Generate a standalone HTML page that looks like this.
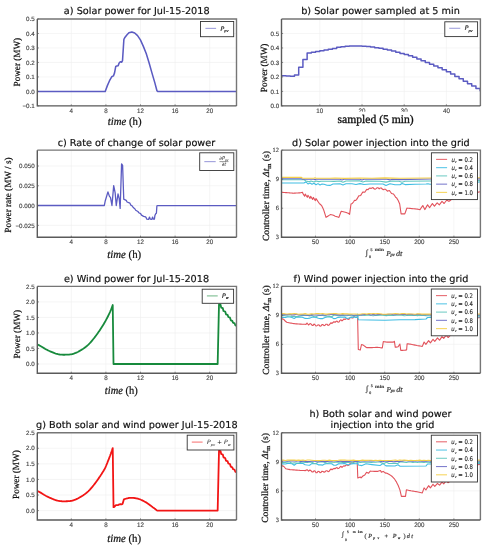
<!DOCTYPE html>
<html><head><meta charset="utf-8"><title>Solar and wind power figure</title><style>html,body{margin:0;padding:0;background:#fff;}svg{display:block;} text{text-rendering:geometricPrecision;}</style></head><body>
<svg width="487" height="550" viewBox="0 0 487 550">
<rect width="487" height="550" fill="#ffffff"/>
<line x1="71.3" y1="19" x2="71.3" y2="105.9" stroke="#eeeeee" stroke-width="0.6"/>
<line x1="105.9" y1="19" x2="105.9" y2="105.9" stroke="#eeeeee" stroke-width="0.6"/>
<line x1="140.5" y1="19" x2="140.5" y2="105.9" stroke="#eeeeee" stroke-width="0.6"/>
<line x1="175.1" y1="19" x2="175.1" y2="105.9" stroke="#eeeeee" stroke-width="0.6"/>
<line x1="209.7" y1="19" x2="209.7" y2="105.9" stroke="#eeeeee" stroke-width="0.6"/>
<line x1="37.3" y1="105.9" x2="236.5" y2="105.9" stroke="#eeeeee" stroke-width="0.6"/>
<line x1="37.3" y1="91.42" x2="236.5" y2="91.42" stroke="#eeeeee" stroke-width="0.6"/>
<line x1="37.3" y1="76.93" x2="236.5" y2="76.93" stroke="#eeeeee" stroke-width="0.6"/>
<line x1="37.3" y1="62.45" x2="236.5" y2="62.45" stroke="#eeeeee" stroke-width="0.6"/>
<line x1="37.3" y1="47.97" x2="236.5" y2="47.97" stroke="#eeeeee" stroke-width="0.6"/>
<line x1="37.3" y1="33.48" x2="236.5" y2="33.48" stroke="#eeeeee" stroke-width="0.6"/>
<line x1="37.3" y1="19" x2="236.5" y2="19" stroke="#eeeeee" stroke-width="0.6"/>
<line x1="319.8" y1="19" x2="319.8" y2="105.9" stroke="#eeeeee" stroke-width="0.6"/>
<line x1="362" y1="19" x2="362" y2="105.9" stroke="#eeeeee" stroke-width="0.6"/>
<line x1="404.2" y1="19" x2="404.2" y2="105.9" stroke="#eeeeee" stroke-width="0.6"/>
<line x1="446.4" y1="19" x2="446.4" y2="105.9" stroke="#eeeeee" stroke-width="0.6"/>
<line x1="281.5" y1="105.9" x2="480.4" y2="105.9" stroke="#eeeeee" stroke-width="0.6"/>
<line x1="281.5" y1="91.42" x2="480.4" y2="91.42" stroke="#eeeeee" stroke-width="0.6"/>
<line x1="281.5" y1="76.93" x2="480.4" y2="76.93" stroke="#eeeeee" stroke-width="0.6"/>
<line x1="281.5" y1="62.45" x2="480.4" y2="62.45" stroke="#eeeeee" stroke-width="0.6"/>
<line x1="281.5" y1="47.97" x2="480.4" y2="47.97" stroke="#eeeeee" stroke-width="0.6"/>
<line x1="281.5" y1="33.48" x2="480.4" y2="33.48" stroke="#eeeeee" stroke-width="0.6"/>
<line x1="71.3" y1="150.15" x2="71.3" y2="237.25" stroke="#eeeeee" stroke-width="0.6"/>
<line x1="105.9" y1="150.15" x2="105.9" y2="237.25" stroke="#eeeeee" stroke-width="0.6"/>
<line x1="140.5" y1="150.15" x2="140.5" y2="237.25" stroke="#eeeeee" stroke-width="0.6"/>
<line x1="175.1" y1="150.15" x2="175.1" y2="237.25" stroke="#eeeeee" stroke-width="0.6"/>
<line x1="209.7" y1="150.15" x2="209.7" y2="237.25" stroke="#eeeeee" stroke-width="0.6"/>
<line x1="37.3" y1="225.37" x2="236.5" y2="225.37" stroke="#eeeeee" stroke-width="0.6"/>
<line x1="37.3" y1="205.58" x2="236.5" y2="205.58" stroke="#eeeeee" stroke-width="0.6"/>
<line x1="37.3" y1="185.78" x2="236.5" y2="185.78" stroke="#eeeeee" stroke-width="0.6"/>
<line x1="37.3" y1="165.99" x2="236.5" y2="165.99" stroke="#eeeeee" stroke-width="0.6"/>
<line x1="315.5" y1="150.15" x2="315.5" y2="237.25" stroke="#eeeeee" stroke-width="0.6"/>
<line x1="350.1" y1="150.15" x2="350.1" y2="237.25" stroke="#eeeeee" stroke-width="0.6"/>
<line x1="384.7" y1="150.15" x2="384.7" y2="237.25" stroke="#eeeeee" stroke-width="0.6"/>
<line x1="419.3" y1="150.15" x2="419.3" y2="237.25" stroke="#eeeeee" stroke-width="0.6"/>
<line x1="453.9" y1="150.15" x2="453.9" y2="237.25" stroke="#eeeeee" stroke-width="0.6"/>
<line x1="281.5" y1="237.25" x2="480.4" y2="237.25" stroke="#eeeeee" stroke-width="0.6"/>
<line x1="281.5" y1="208.22" x2="480.4" y2="208.22" stroke="#eeeeee" stroke-width="0.6"/>
<line x1="281.5" y1="179.18" x2="480.4" y2="179.18" stroke="#eeeeee" stroke-width="0.6"/>
<line x1="281.5" y1="150.15" x2="480.4" y2="150.15" stroke="#eeeeee" stroke-width="0.6"/>
<line x1="71.3" y1="286.4" x2="71.3" y2="373.3" stroke="#eeeeee" stroke-width="0.6"/>
<line x1="105.9" y1="286.4" x2="105.9" y2="373.3" stroke="#eeeeee" stroke-width="0.6"/>
<line x1="140.5" y1="286.4" x2="140.5" y2="373.3" stroke="#eeeeee" stroke-width="0.6"/>
<line x1="175.1" y1="286.4" x2="175.1" y2="373.3" stroke="#eeeeee" stroke-width="0.6"/>
<line x1="209.7" y1="286.4" x2="209.7" y2="373.3" stroke="#eeeeee" stroke-width="0.6"/>
<line x1="37.3" y1="363.99" x2="236.5" y2="363.99" stroke="#eeeeee" stroke-width="0.6"/>
<line x1="37.3" y1="348.47" x2="236.5" y2="348.47" stroke="#eeeeee" stroke-width="0.6"/>
<line x1="37.3" y1="332.95" x2="236.5" y2="332.95" stroke="#eeeeee" stroke-width="0.6"/>
<line x1="37.3" y1="317.44" x2="236.5" y2="317.44" stroke="#eeeeee" stroke-width="0.6"/>
<line x1="37.3" y1="301.92" x2="236.5" y2="301.92" stroke="#eeeeee" stroke-width="0.6"/>
<line x1="37.3" y1="286.4" x2="236.5" y2="286.4" stroke="#eeeeee" stroke-width="0.6"/>
<line x1="315.5" y1="286.4" x2="315.5" y2="373.3" stroke="#eeeeee" stroke-width="0.6"/>
<line x1="350.1" y1="286.4" x2="350.1" y2="373.3" stroke="#eeeeee" stroke-width="0.6"/>
<line x1="384.7" y1="286.4" x2="384.7" y2="373.3" stroke="#eeeeee" stroke-width="0.6"/>
<line x1="419.3" y1="286.4" x2="419.3" y2="373.3" stroke="#eeeeee" stroke-width="0.6"/>
<line x1="453.9" y1="286.4" x2="453.9" y2="373.3" stroke="#eeeeee" stroke-width="0.6"/>
<line x1="281.5" y1="373.3" x2="480.4" y2="373.3" stroke="#eeeeee" stroke-width="0.6"/>
<line x1="281.5" y1="344.33" x2="480.4" y2="344.33" stroke="#eeeeee" stroke-width="0.6"/>
<line x1="281.5" y1="315.37" x2="480.4" y2="315.37" stroke="#eeeeee" stroke-width="0.6"/>
<line x1="281.5" y1="286.4" x2="480.4" y2="286.4" stroke="#eeeeee" stroke-width="0.6"/>
<line x1="71.3" y1="432.7" x2="71.3" y2="519.95" stroke="#eeeeee" stroke-width="0.6"/>
<line x1="105.9" y1="432.7" x2="105.9" y2="519.95" stroke="#eeeeee" stroke-width="0.6"/>
<line x1="140.5" y1="432.7" x2="140.5" y2="519.95" stroke="#eeeeee" stroke-width="0.6"/>
<line x1="175.1" y1="432.7" x2="175.1" y2="519.95" stroke="#eeeeee" stroke-width="0.6"/>
<line x1="209.7" y1="432.7" x2="209.7" y2="519.95" stroke="#eeeeee" stroke-width="0.6"/>
<line x1="37.3" y1="510.6" x2="236.5" y2="510.6" stroke="#eeeeee" stroke-width="0.6"/>
<line x1="37.3" y1="495.02" x2="236.5" y2="495.02" stroke="#eeeeee" stroke-width="0.6"/>
<line x1="37.3" y1="479.44" x2="236.5" y2="479.44" stroke="#eeeeee" stroke-width="0.6"/>
<line x1="37.3" y1="463.86" x2="236.5" y2="463.86" stroke="#eeeeee" stroke-width="0.6"/>
<line x1="37.3" y1="448.28" x2="236.5" y2="448.28" stroke="#eeeeee" stroke-width="0.6"/>
<line x1="37.3" y1="432.7" x2="236.5" y2="432.7" stroke="#eeeeee" stroke-width="0.6"/>
<line x1="315.5" y1="432.7" x2="315.5" y2="519.95" stroke="#eeeeee" stroke-width="0.6"/>
<line x1="350.1" y1="432.7" x2="350.1" y2="519.95" stroke="#eeeeee" stroke-width="0.6"/>
<line x1="384.7" y1="432.7" x2="384.7" y2="519.95" stroke="#eeeeee" stroke-width="0.6"/>
<line x1="419.3" y1="432.7" x2="419.3" y2="519.95" stroke="#eeeeee" stroke-width="0.6"/>
<line x1="453.9" y1="432.7" x2="453.9" y2="519.95" stroke="#eeeeee" stroke-width="0.6"/>
<line x1="281.5" y1="519.95" x2="480.4" y2="519.95" stroke="#eeeeee" stroke-width="0.6"/>
<line x1="281.5" y1="490.87" x2="480.4" y2="490.87" stroke="#eeeeee" stroke-width="0.6"/>
<line x1="281.5" y1="461.78" x2="480.4" y2="461.78" stroke="#eeeeee" stroke-width="0.6"/>
<line x1="281.5" y1="432.7" x2="480.4" y2="432.7" stroke="#eeeeee" stroke-width="0.6"/>
<clipPath id="c1"><rect x="37.3" y="19" width="199.2" height="86.9"/></clipPath>
<polyline points="36.7,91.42 105.21,91.42 107.37,85.62 109.53,80.7 111.7,76.79 113.43,75.92 114.55,72.88 115.76,66.36 116.71,65.93 118.18,65.64 119.13,63.03 120.35,61.73 121.73,62.16 122.51,60.71 123.89,39.28 124.67,37.83 126.83,34.93 128.91,32.76 131.85,32.03 134.7,33.05 137.56,35.66 140.41,39.86 143.35,46.37 146.21,53.47 149.06,62.74 151.92,72.88 154.86,82.87 156.94,90.69 157.71,91.42 239.98,91.42" fill="none" stroke="#5b5bc2" stroke-width="1.55" stroke-linejoin="round" stroke-linecap="round" clip-path="url(#c1)"/>
<clipPath id="c2"><rect x="281.5" y="19" width="198.9" height="86.9"/></clipPath>
<polyline points="281.82,75.63 286.04,75.63 286.04,75.92 290.26,75.92 290.26,76.35 294.48,76.35 294.48,75.12 298.7,75.12 298.7,67.37 302.92,67.37 302.92,59.55 307.14,59.55 307.14,53.04 311.36,53.04 311.36,52.31 315.58,52.31 315.58,51.59 319.8,51.59 319.8,50.86 324.02,50.86 324.02,49.99 328.24,49.99 328.24,49.27 332.46,49.27 332.46,48.4 336.68,48.4 336.68,47.17 340.9,47.17 340.9,46.74 345.12,46.74 345.12,46.37 349.34,46.37 349.34,46.07 353.56,46.07 353.56,46.01 357.78,46.01 357.78,45.96 362,45.96 362,46.19 366.22,46.19 366.22,46.55 370.44,46.55 370.44,47.01 374.66,47.01 374.66,47.67 378.88,47.67 378.88,48.33 383.1,48.33 383.1,49.18 387.32,49.18 387.32,50.05 391.54,50.05 391.54,51.05 395.76,51.05 395.76,52.23 399.98,52.23 399.98,53.4 404.2,53.4 404.2,54.52 408.42,54.52 408.42,55.63 412.64,55.63 412.64,57.22 416.86,57.22 416.86,59.12 421.08,59.12 421.08,60.86 425.3,60.86 425.3,62.59 429.52,62.59 429.52,64.33 433.74,64.33 433.74,66.07 437.96,66.07 437.96,67.87 442.18,67.87 442.18,69.66 446.4,69.66 446.4,71.74 450.62,71.74 450.62,74.11 454.84,74.11 454.84,76.47 459.06,76.47 459.06,78.83 463.28,78.83 463.28,81.24 467.5,81.24 467.5,83.66 471.72,83.66 471.72,86.09 475.94,86.09 475.94,88.52 480.16,88.52 480.16,90.74 484.38,90.74" fill="none" stroke="#5b5bc2" stroke-width="1.5" stroke-linejoin="round" stroke-linecap="round" clip-path="url(#c2)"/>
<clipPath id="c3"><rect x="37.3" y="150.15" width="199.2" height="87.1"/></clipPath>
<polyline points="37.5,205.49 104.34,205.49 105.35,200.46 107.94,191.83 109.37,196.15 110.52,197.58 111.96,205.49 113.69,185.65 115.12,192.55 116.27,205.49 118,193.99 119.15,198.3 120.15,208.36 121.59,163.81 122.6,165.25 123.75,199.02 123.7,199.18 126.2,200.38 127.1,201.98 129.9,203.18 130.8,205.08 132.3,205.98 133.2,207.48 134.8,208.78 135.7,210.28 137.9,211.48 138.8,212.78 140.6,213.58 141.5,215.18 143.6,216.37 145.6,216.87 146.4,218.17 146.7,219.17 148.5,219.47 149.5,217.07 150.3,219.17 151.8,219.37 152.6,217.07 153.3,219.17 154.4,219.17 154.9,215.57 155.7,213.78 156.4,213.28 156.9,205.78 157.7,205.58 300,205.58" fill="none" stroke="#5b5bc2" stroke-width="1.3" stroke-linejoin="round" stroke-linecap="round" clip-path="url(#c3)"/>
<clipPath id="c4"><rect x="37.3" y="286.4" width="199.2" height="86.9"/></clipPath>
<polyline points="36.7,343.97 37.34,344.33 37.98,344.68 38.62,345.03 39.26,345.37 39.89,345.72 40.53,346.07 41.17,346.43 41.81,346.8 42.45,347.19 43.09,347.59 43.73,347.99 44.37,348.38 45.01,348.77 45.65,349.14 46.28,349.49 46.92,349.82 47.56,350.14 48.2,350.45 48.84,350.75 49.48,351.05 50.12,351.33 50.76,351.61 51.4,351.88 52.03,352.15 52.67,352.42 53.31,352.69 53.95,352.95 54.59,353.2 55.23,353.43 55.87,353.63 56.51,353.81 57.15,353.97 57.78,354.12 58.42,354.26 59.06,354.38 59.7,354.49 60.34,354.56 60.98,354.62 61.62,354.67 62.26,354.7 62.9,354.73 63.54,354.74 64.17,354.74 64.81,354.73 65.45,354.72 66.09,354.7 66.73,354.68 67.37,354.66 68.01,354.63 68.65,354.58 69.29,354.53 69.92,354.47 70.56,354.4 71.2,354.32 71.84,354.2 72.48,354.04 73.12,353.84 73.76,353.63 74.4,353.4 75.04,353.16 75.68,352.92 76.31,352.65 76.95,352.36 77.59,352.05 78.23,351.72 78.87,351.37 79.51,351.01 80.15,350.64 80.79,350.26 81.43,349.87 82.06,349.47 82.7,349.05 83.34,348.63 83.98,348.18 84.62,347.72 85.26,347.24 85.9,346.75 86.54,346.23 87.18,345.7 87.81,345.14 88.45,344.55 89.09,343.92 89.73,343.25 90.37,342.55 91.01,341.82 91.65,341.08 92.29,340.31 92.93,339.54 93.57,338.76 94.2,337.96 94.84,337.15 95.48,336.31 96.12,335.45 96.76,334.57 97.4,333.68 98.04,332.76 98.68,331.84 99.32,330.9 99.95,329.95 100.59,328.99 101.23,328.01 101.87,327.02 102.51,326.01 103.15,324.97 103.79,323.91 104.43,322.83 105.07,321.72 105.71,320.58 106.34,319.41 106.98,318.22 107.62,316.99 108.26,315.72 108.9,314.41 109.54,313.04 110.18,311.62 110.82,310.1 111.46,308.48 112.09,306.78 112.73,305.02 113.51,363.99 217.66,363.99 219,304.38 219.8,304.38 220.6,304.88 221.2,307.59 222.8,308.19 223.5,310.99 225.2,311.59 226,314.3 227.6,314.8 228.3,317 230,317.7 230.8,320.31 232.3,320.91 233,322.61 234.6,323.31 235.3,325.32 237,325.82" fill="none" stroke="#178a3c" stroke-width="1.8" stroke-linejoin="round" stroke-linecap="round" clip-path="url(#c4)"/>
<clipPath id="c5"><rect x="37.3" y="432.7" width="199.2" height="87.25"/></clipPath>
<polyline points="36.7,490.5 37.13,490.75 37.34,490.86 37.57,490.99 37.98,491.21 38,491.23 38.43,491.46 38.62,491.56 38.86,491.7 39.26,491.91 39.3,491.93 39.73,492.16 39.89,492.26 40.16,492.4 40.53,492.61 40.59,492.64 41.03,492.89 41.17,492.97 41.46,493.14 41.81,493.35 41.89,493.39 42.32,493.66 42.45,493.74 42.76,493.93 43.09,494.13 43.19,494.2 43.62,494.47 43.73,494.53 44.05,494.74 44.37,494.93 44.48,495 44.92,495.26 45.01,495.32 45.35,495.52 45.65,495.69 45.78,495.77 46.22,496 46.28,496.04 46.65,496.23 46.92,496.37 47.08,496.45 47.51,496.67 47.56,496.69 47.95,496.88 48.2,497.01 48.38,497.09 48.81,497.3 48.84,497.31 49.24,497.5 49.48,497.61 49.68,497.7 50.11,497.89 50.12,497.89 50.54,498.08 50.76,498.17 50.97,498.27 51.4,498.45 51.41,498.45 51.84,498.63 52.03,498.72 52.27,498.82 52.67,498.99 52.7,499 53.14,499.18 53.31,499.26 53.57,499.36 53.95,499.52 54,499.54 54.43,499.71 54.59,499.77 54.87,499.87 55.23,500 55.3,500.02 55.73,500.16 55.87,500.2 56.16,500.29 56.51,500.38 56.6,500.4 57.03,500.51 57.15,500.54 57.46,500.61 57.78,500.69 57.89,500.72 58.33,500.81 58.42,500.83 58.76,500.9 59.06,500.96 59.19,500.98 59.62,501.05 59.7,501.06 60.06,501.1 60.34,501.14 60.49,501.15 60.92,501.19 60.98,501.19 61.35,501.22 61.62,501.24 61.79,501.25 62.22,501.28 62.26,501.28 62.65,501.3 62.9,501.31 63.08,501.31 63.52,501.32 63.54,501.32 63.95,501.31 64.17,501.31 64.38,501.31 64.81,501.3 64.81,501.3 65.25,501.29 65.45,501.29 65.68,501.28 66.09,501.27 66.11,501.27 66.54,501.26 66.73,501.26 66.98,501.25 67.37,501.23 67.41,501.23 67.84,501.21 68.01,501.2 68.27,501.18 68.65,501.16 68.71,501.15 69.14,501.12 69.29,501.11 69.57,501.08 69.92,501.05 70,501.04 70.44,500.99 70.56,500.98 70.87,500.94 71.2,500.89 71.3,500.88 71.73,500.79 71.84,500.77 72.17,500.69 72.48,500.61 72.6,500.57 73.03,500.44 73.12,500.42 73.46,500.3 73.76,500.2 73.9,500.15 74.33,499.99 74.4,499.97 74.76,499.83 75.04,499.73 75.19,499.67 75.62,499.5 75.68,499.49 76.06,499.33 76.31,499.22 76.49,499.14 76.92,498.94 76.95,498.93 77.36,498.73 77.59,498.62 77.79,498.51 78.22,498.29 78.23,498.28 78.65,498.05 78.87,497.93 79.09,497.81 79.51,497.57 79.52,497.56 79.95,497.31 80.15,497.2 80.38,497.06 80.79,496.81 80.82,496.8 81.25,496.53 81.43,496.43 81.68,496.26 82.06,496.02 82.11,495.99 82.55,495.71 82.7,495.61 82.98,495.42 83.34,495.18 83.41,495.13 83.84,494.83 83.98,494.73 84.28,494.52 84.62,494.27 84.71,494.2 85.14,493.88 85.26,493.79 85.57,493.54 85.9,493.29 86.01,493.2 86.44,492.85 86.54,492.77 86.87,492.49 87.18,492.24 87.3,492.13 87.74,491.75 87.81,491.68 88.17,491.35 88.45,491.08 88.6,490.94 89.03,490.51 89.09,490.45 89.47,490.06 89.73,489.78 89.9,489.6 90.33,489.12 90.37,489.08 90.76,488.63 91.01,488.35 91.2,488.13 91.63,487.62 91.65,487.6 92.06,487.1 92.29,486.83 92.49,486.58 92.93,486.06 92.93,486.05 93.36,485.52 93.57,485.27 93.79,484.99 94.2,484.47 94.22,484.45 94.66,483.89 94.84,483.65 95.09,483.33 95.48,482.81 95.52,482.76 95.95,482.17 96.12,481.95 96.39,481.58 96.76,481.07 96.82,480.98 97.25,480.38 97.4,480.17 97.68,479.76 98.04,479.25 98.12,479.14 98.55,478.51 98.68,478.32 98.98,477.88 99.32,477.38 99.41,477.24 99.85,476.59 99.95,476.43 100.28,475.94 100.59,475.46 100.71,475.28 101.14,474.62 101.23,474.48 101.58,473.95 101.87,473.48 102.01,473.27 102.44,472.58 102.51,472.46 102.87,471.88 103.15,471.43 103.31,471.17 103.74,470.45 103.79,470.36 104.17,469.71 104.43,469.28 104.6,468.97 105.04,468.21 105.07,468.16 105.21,467.91 105.47,467.29 105.71,466.73 105.9,466.26 106.33,465.22 106.34,465.19 106.77,464.16 106.98,463.62 107.2,463.09 107.37,462.65 107.62,462.04 107.63,462.02 108.06,460.95 108.26,460.46 108.5,459.86 108.9,458.82 108.93,458.75 109.36,457.61 109.53,457.15 109.54,457.14 109.79,456.47 110.18,455.46 110.23,455.33 110.66,454.13 110.82,453.69 111.09,452.89 111.46,451.82 111.52,451.62 111.7,451.08 111.96,450.36 112.09,449.97 112.39,449.13 112.73,448.14 112.82,454.71 113.25,487.55 113.43,500.69 113.51,507.22 113.69,507.12 114.12,506.86 114.55,506.61 114.98,506.11 115.42,505.61 115.76,505.21 115.85,505.2 116.28,505.16 116.71,505.12 117.15,505.1 117.58,505.08 118.01,505.06 118.18,505.06 118.44,504.9 118.88,504.65 119.13,504.49 119.31,504.45 119.74,504.35 120.17,504.25 120.35,504.21 120.61,504.23 121.04,504.26 121.47,504.29 121.73,504.31 121.9,504.24 122.34,504.06 122.51,504 122.77,503.13 123.2,501.69 123.63,500.25 123.89,499.38 124.07,499.31 124.5,499.14 124.67,499.07 124.93,499 125.36,498.87 125.8,498.75 126.23,498.62 126.66,498.5 126.83,498.45 127.09,498.39 127.53,498.29 127.96,498.2 128.39,498.1 128.82,498 128.91,497.98 129.25,497.96 129.69,497.94 130.12,497.92 130.55,497.89 130.99,497.87 131.42,497.85 131.85,497.83 132.28,497.86 132.72,497.89 133.15,497.93 133.58,497.96 134.01,497.99 134.44,498.02 134.7,498.04 134.88,498.08 135.31,498.16 135.74,498.25 136.18,498.33 136.61,498.42 137.04,498.5 137.47,498.59 137.56,498.6 137.91,498.71 138.34,498.85 138.77,498.99 139.2,499.13 139.63,499.26 140.07,499.4 140.41,499.51 140.5,499.55 140.93,499.76 141.37,499.96 141.8,500.17 142.23,500.37 142.66,500.58 143.1,500.79 143.35,500.91 143.53,501 143.96,501.23 144.39,501.47 144.82,501.7 145.26,501.93 145.69,502.16 146.12,502.39 146.21,502.44 146.56,502.68 146.99,502.98 147.42,503.28 147.85,503.59 148.29,503.89 148.72,504.19 149.06,504.43 149.15,504.5 149.58,504.83 150.02,505.16 150.45,505.49 150.88,505.82 151.31,506.15 151.75,506.48 151.92,506.61 152.18,506.8 152.61,507.12 153.04,507.44 153.48,507.75 153.91,508.07 154.34,508.38 154.77,508.7 154.86,508.76 155.21,509.04 155.64,509.39 156.07,509.74 156.5,510.1 156.94,510.45 157.37,510.53 157.71,510.6 157.8,510.6 158.23,510.6 158.67,510.6 159.1,510.6 159.53,510.6 159.96,510.6 160.4,510.6 160.83,510.6 161.26,510.6 161.69,510.6 162.12,510.6 162.56,510.6 162.99,510.6 163.42,510.6 163.86,510.6 164.29,510.6 164.72,510.6 165.15,510.6 165.59,510.6 166.02,510.6 166.45,510.6 166.88,510.6 167.31,510.6 167.75,510.6 168.18,510.6 168.61,510.6 169.05,510.6 169.48,510.6 169.91,510.6 170.34,510.6 170.78,510.6 171.21,510.6 171.64,510.6 172.07,510.6 172.5,510.6 172.94,510.6 173.37,510.6 173.8,510.6 174.24,510.6 174.67,510.6 175.1,510.6 175.53,510.6 175.97,510.6 176.4,510.6 176.83,510.6 177.26,510.6 177.69,510.6 178.13,510.6 178.56,510.6 178.99,510.6 179.43,510.6 179.86,510.6 180.29,510.6 180.72,510.6 181.16,510.6 181.59,510.6 182.02,510.6 182.45,510.6 182.89,510.6 183.32,510.6 183.75,510.6 184.18,510.6 184.62,510.6 185.05,510.6 185.48,510.6 185.91,510.6 186.35,510.6 186.78,510.6 187.21,510.6 187.64,510.6 188.07,510.6 188.51,510.6 188.94,510.6 189.37,510.6 189.81,510.6 190.24,510.6 190.67,510.6 191.1,510.6 191.54,510.6 191.97,510.6 192.4,510.6 192.83,510.6 193.27,510.6 193.7,510.6 194.13,510.6 194.56,510.6 195,510.6 195.43,510.6 195.86,510.6 196.29,510.6 196.73,510.6 197.16,510.6 197.59,510.6 198.02,510.6 198.45,510.6 198.89,510.6 199.32,510.6 199.75,510.6 200.19,510.6 200.62,510.6 201.05,510.6 201.48,510.6 201.92,510.6 202.35,510.6 202.78,510.6 203.21,510.6 203.65,510.6 204.08,510.6 204.51,510.6 204.94,510.6 205.38,510.6 205.81,510.6 206.24,510.6 206.67,510.6 207.11,510.6 207.54,510.6 207.97,510.6 208.4,510.6 208.84,510.6 209.27,510.6 209.7,510.6 210.13,510.6 210.56,510.6 211,510.6 211.43,510.6 211.86,510.6 212.3,510.6 212.73,510.6 213.16,510.6 213.59,510.6 214.03,510.6 214.46,510.6 214.89,510.6 215.32,510.6 215.76,510.6 216.19,510.6 216.62,510.6 217.05,510.6 217.49,510.6 217.66,510.6 217.92,499.03 218.35,479.74 218.78,460.45 219,450.75 219.22,450.75 219.65,450.75 219.8,450.75 220.08,450.93 220.51,451.2 220.6,451.26 220.94,452.82 221.2,453.97 221.38,454.04 221.81,454.2 222.24,454.37 222.68,454.53 222.8,454.58 223.11,455.81 223.5,457.39 223.54,457.41 223.97,457.56 224.41,457.71 224.84,457.87 225.2,457.99 225.27,458.23 225.7,459.7 226,460.71 226.14,460.75 226.57,460.89 227,461.02 227.43,461.16 227.6,461.21 227.87,462.05 228.3,463.42 228.3,463.43 228.73,463.6 229.16,463.78 229.6,463.96 230,464.13 230.03,464.22 230.46,465.63 230.8,466.75 230.89,466.78 231.32,466.96 231.76,467.13 232.19,467.3 232.3,467.35 232.62,468.14 233,469.06 233.06,469.08 233.49,469.27 233.92,469.46 234.35,469.65 234.6,469.76 234.79,470.29 235.22,471.54 235.3,471.77 235.65,471.88 236.08,472.01 236.52,472.13 236.95,472.26 237,472.28 237.38,472.28 237.81,472.28 238.25,472.28 238.68,472.28 239.11,472.28 239.54,472.28 239.98,472.28 240.41,472.28" fill="none" stroke="#f21515" stroke-width="1.8" stroke-linejoin="round" stroke-linecap="round" clip-path="url(#c5)"/>
<clipPath id="c6"><rect x="281.5" y="150.15" width="198.9" height="87.1"/></clipPath>
<polyline points="281,192.2 281.95,192.28 282.89,192.35 283.84,192.43 284.78,192.51 285.73,192.58 286.68,192.66 287.62,192.74 288.57,192.82 289.52,192.89 290.46,192.97 291.41,193.05 292.35,193.12 293.3,193.2 294.23,193.15 295.15,193.1 296.07,193.05 297,193 297.93,192.95 298.85,192.9 299.77,192.85 300.7,192.8 301.65,192.5 302.6,192.2 302.6,193 303.61,194.61 304.61,196.22 305.28,194.1 306.29,195.71 307.29,197.33 307.96,195.2 308.97,196.81 309.97,198.43 310.64,196.3 311.64,197.91 312.65,199.53 313.32,197.4 314.32,199.01 315.33,200.62 316,198.5 317.07,200.1 318.13,201.7 319.2,203.3 320.45,204.5 321.7,205.7 322.6,207.55 323.5,209.4 324.7,213.1 326,217.4 326.9,216.8 327.8,216.2 329.05,215.4 330.3,214.6 331.5,214.8 332.7,215 333.95,215.6 335.2,216.2 336.12,216.5 337.05,216.8 337.97,217.1 338.9,217.4 340.05,214.3 341.2,211.2 342.23,211.45 343.25,211.7 344.27,211.95 345.3,212.2 346.3,212.57 347.3,212.93 348.3,213.3 349.6,214.3 351,204 352.25,203.46 353.5,202 354.5,200.34 355.5,200.5 356.55,199.64 357.6,197.9 358.65,195.91 359.7,195.8 360.7,195.39 361.7,193.7 362.75,192.12 363.8,192 364.8,192.19 365.8,190.7 366.83,189.34 367.87,189.81 368.9,188.6 369.93,187.97 370.97,188.56 372,188 373,187.58 374,188.8 375.05,189.31 376.1,188.6 377.15,187.79 378.2,187.8 379.2,188.82 380.2,188 381.25,188.01 382.3,189 383.3,189.69 384.3,189.2 385.35,189.19 386.4,190.2 387.4,191.19 388.4,190.7 389.45,190.64 390.5,192 391.5,193.57 392.5,193.7 393.55,194.11 394.6,195.5 395.6,197.2 396.6,197.9 398.2,200.5 399.7,204 401.1,213.9 402.03,213.9 402.95,213.9 403.88,213.9 404.8,213.9 405.85,211 406.9,208.1 407.92,208.2 408.95,208.3 409.98,208.4 411,208.5 412.02,208.6 413.03,208.7 414.05,208.8 415.07,208.9 416.08,209 417.1,209.1 418.07,209.27 419.03,209.43 420,209.6 420.93,208.23 421.87,206.87 422.8,205.5 423.8,207.55 424.8,209.6 425.73,208 426.67,206.4 427.6,204.8 428.6,206.2 429.6,207.6 430.53,206.23 431.47,204.87 432.4,203.5 433.4,204.85 434.4,206.2 435.33,205.07 436.27,203.93 437.2,202.8 438.25,203.8 439.3,204.8 440.65,203.1 442,201.4 443.05,202.45 444.1,203.5 445.45,201.75 446.8,200 447.85,200.7 448.9,201.4 449.8,200.7 450.7,200 451.6,199.3 452.53,199.04 453.47,198.79 454.4,198.53 455.33,198.28 456.27,198.02 457.2,197.77 458.13,197.51 459.07,197.26 460,197 460.91,196.73 461.82,196.45 462.73,196.18 463.64,195.91 464.55,195.64 465.45,195.36 466.36,195.09 467.27,194.82 468.18,194.55 469.09,194.27 470,194 470.92,193.79 471.83,193.58 472.75,193.38 473.67,193.17 474.58,192.96 475.5,192.75 476.42,192.54 477.33,192.33 478.25,192.12 479.17,191.92 480.08,191.71 481,191.5" fill="none" stroke="#e2525b" stroke-width="1.1" stroke-linejoin="round" stroke-linecap="round" clip-path="url(#c6)"/>
<clipPath id="c7"><rect x="281.5" y="150.15" width="198.9" height="87.1"/></clipPath>
<polyline points="281,183 304,183 306,181.8 308,184 310,183 312,184.3 314,183.3 316,184.8 318,183.6 320,185 322,184 324,184.2 327,185.2 330,185.4 333,184 340,183.7 343,185 346,183.8 352,183.8 356,184.5 360,183.6 364,184.5 370,184 383,184 386,185.5 390,183.7 395,184.7 400,184.8 402,183.5 405,184.6 415,184.3 426,184 428,183.8 430,184.2 481,182" fill="none" stroke="#40bde3" stroke-width="1.1" stroke-linejoin="round" stroke-linecap="round" clip-path="url(#c7)"/>
<clipPath id="c8"><rect x="281.5" y="150.15" width="198.9" height="87.1"/></clipPath>
<polyline points="281,179.7 304,179.7 306,181 309,181.8 311,181 314,182 316,181 319,181.6 321,181.2 330,181.2 334,181.4 340,181 343,182.2 346,181 360,180.9 363,182 366,181 380,181.2 386,182.1 392,181 399,181.3 402,182.3 405,181.2 430,181 481,180.6" fill="none" stroke="#5fc6bd" stroke-width="1.1" stroke-linejoin="round" stroke-linecap="round" clip-path="url(#c8)"/>
<clipPath id="c9"><rect x="281.5" y="150.15" width="198.9" height="87.1"/></clipPath>
<polyline points="281,178.7 301.5,178.7 302.5,179.3 314,179.2 315,179.8 316,179.2 340,179.2 342,179.9 344,179.2 360,179.2 362,179.9 364,179.2 386,179 390,179.9 392,179.2 400,179.6 430,179 481,178.9" fill="none" stroke="#6a6ac6" stroke-width="1.1" stroke-linejoin="round" stroke-linecap="round" clip-path="url(#c9)"/>
<clipPath id="c10"><rect x="281.5" y="150.15" width="198.9" height="87.1"/></clipPath>
<polyline points="281,177.4 301.5,177.4 302.5,178.2 314,178.2 315,177.7 316,178.2 330,178.3 335,178 345,178.4 360,178 372,178.3 385,177.9 400,178.2 430,178 481,177.7" fill="none" stroke="#f5cf48" stroke-width="1.1" stroke-linejoin="round" stroke-linecap="round" clip-path="url(#c10)"/>
<clipPath id="c11"><rect x="281.5" y="286.4" width="198.9" height="86.9"/></clipPath>
<polyline points="281,318.6 282.25,318.9 283.5,319.2 285.2,321 286.7,322.2 287.8,322.47 288.9,322.73 290,323 291,323.16 292,323.32 293,323.48 294,323.64 295,323.8 296,323.86 297,323.92 298,323.98 299,324.04 300,324.1 301,324.14 302,324.18 303,324.22 304,324.26 305,324.3 306,324.39 307,323 308.5,325 310,323.6 311.1,324.07 312.2,325.4 313.1,325.4 314,324 315,324.74 316,326 317,325.7 318,324.8 319,324.93 320,326.2 321,325.94 322,324.6 323,324.63 324,325.6 325,325.33 326,324.2 327,324.21 328,325.4 329,325.09 330,323.8 331,322.71 332,323.46 333,322.5 334,321.6 335,322.43 336,321.5 337,321.06 338,322.2 339,322 340,320.4 341,319.8 342,320.86 343,320 344,318.9 345,319.47 346,318.8 347,318.46 348,319.4 349,319.29 350,317.8 351,317.25 352,318 353,317.94 354,316.6 355.25,315.56 356.5,315.6 357.6,316.4 358.3,349.5 359.3,349.75 360.3,350 361.5,344.5 363,345 363.9,345.65 364.8,346.3 365.7,346.95 366.6,347.6 367.53,347.6 368.47,347.6 369.4,347.6 370.33,347.6 371.27,347.6 372.2,347.6 373.12,347.55 374.03,347.5 374.95,347.45 375.87,347.4 376.78,347.35 377.7,347.3 378.62,347.44 379.54,347.58 380.46,347.72 381.38,347.86 382.3,348 383.3,341.6 384.23,341.73 385.15,341.85 386.07,341.98 387,342.1 387.91,342.1 388.83,342.1 389.74,342.1 390.66,342.1 391.57,342.1 392.49,342.1 393.4,342.1 394.4,341.3 395.3,347.3 396.23,347.13 397.17,346.97 398.1,346.8 399.9,344 400.8,350.5 401.74,350.42 402.68,350.34 403.62,350.26 404.56,350.18 405.5,350.1 406.6,350 407.1,343.75 408.08,343.89 409.05,344.02 410.02,344.16 411,344.3 412,344.5 413,344.7 414,344.9 415,345.1 416,345.3 417,345.5 418.06,345.68 419.12,345.86 420.18,346.04 421.24,346.22 422.3,346.4 423.2,344.2 424.1,342 425.9,344.3 426.8,343.1 427.7,341.9 428.6,340.7 430.4,342.9 431.7,341.1 433,339.3 433.9,340.35 434.8,341.4 436.15,339.65 437.5,337.9 438.55,339.05 439.6,340.2 440.8,338.4 442,336.6 443.75,338.4 444.88,336.9 446,335.4 447.1,336.45 448.2,337.5 449.55,336.15 450.9,334.8 451.81,334.12 452.72,333.44 453.63,332.76 454.54,332.08 455.45,331.4 456.36,330.72 457.27,330.04 458.18,329.36 459.09,328.68 460,328 460.91,327.45 461.82,326.91 462.73,326.36 463.64,325.82 464.55,325.27 465.45,324.73 466.36,324.18 467.27,323.64 468.18,323.09 469.09,322.55 470,322 471,321.43 472,320.86 473,320.29 474,319.71 475,319.14 476,318.57 477,318 478,317.82 479,317.65 480,317.48 481,317.3" fill="none" stroke="#e2525b" stroke-width="1.1" stroke-linejoin="round" stroke-linecap="round" clip-path="url(#c11)"/>
<clipPath id="c12"><rect x="281.5" y="286.4" width="198.9" height="86.9"/></clipPath>
<polyline points="281,317.21 283.2,317.39 285.4,317.46 287.6,316.86 289.8,317.07 292,317.52 294.2,318.51 296.4,317.07 298.6,317.23 300.8,317 303,317.41 305.2,318.39 307.4,318.53 309.6,318.15 311.8,317.32 314,317 316.2,317.5 318.4,318.31 320.6,318.58 322.8,318.58 325,317.46 327.2,316.93 329.4,317.06 331.6,317.18 333.8,318.62 336,318.33 338.2,317.34 340.4,317.31 342.6,316.98 344.8,317.08 347,318.47 349.2,317.91 351.4,317.37 353.6,316.89 355.8,317.36 357.5,317.2 357.5,314 358.3,319.8 370,320 385,320.2 400,319.8 415,319.6 426,319 427.5,317.5 481,317" fill="none" stroke="#40bde3" stroke-width="1.1" stroke-linejoin="round" stroke-linecap="round" clip-path="url(#c12)"/>
<clipPath id="c13"><rect x="281.5" y="286.4" width="198.9" height="86.9"/></clipPath>
<polyline points="281,315.79 283.2,315.42 285.4,315.83 287.6,315.93 289.8,315.93 292,316.37 294.2,316.48 296.4,316.59 298.6,316.5 300.8,315.76 303,315.27 305.2,315.46 307.4,315.29 309.6,315.85 311.8,315.51 314,316.73 316.2,316.43 318.4,315.49 320.6,315.26 322.8,315.5 325,315.91 327.2,316.3 329.4,316.37 331.6,316.79 333.8,315.27 336,315.3 338.2,315.69 340.4,315.86 342.6,315.26 344.8,315.77 347,315.82 349.2,315.3 351.4,315.71 353.6,315.61 355.8,315.59 358,315.92 360.2,315.05 362.4,315.22 364.6,315.55 366.8,315.28 369,315.24 371.2,315.54 373.4,315.69 375.6,315.22 377.8,315.37 380,315.23 382.2,315.32 384.4,315.47 386.6,315.59 388.8,315.1 391,315.53 393.2,315.43 395.4,315.15 397.6,315.12 399.8,315.22 402,315.16 404.2,315.7 406.4,315.53 408.6,315.22 410.8,315.45 413,315.44 415.2,315.1 417.4,315.64 419.6,315.33 421.8,315.35 424,315.38 426.2,315.59 428.4,315.75 430.6,315.94 432.8,315.86 435,315.6 437.2,315.32 439.4,315.89 441.6,315.51 443.8,315.41 446,315.86 448.2,315.35 450.4,315.42 452.6,315.67 454.8,315.64 457,315.92 459.2,315.57 461.4,315.34 463.6,315.78 465.8,315.39 468,315.37 470.2,315.56 472.4,315.49 474.6,315.93 476.8,315.35 479,315.84 481,315.6" fill="none" stroke="#5fc6bd" stroke-width="1.1" stroke-linejoin="round" stroke-linecap="round" clip-path="url(#c13)"/>
<clipPath id="c14"><rect x="281.5" y="286.4" width="198.9" height="86.9"/></clipPath>
<polyline points="281,314.36 283.2,314.77 285.4,314.43 287.6,314.62 289.8,314.26 292,314.89 294.2,314.88 296.4,314.27 298.6,314.92 300.8,314.75 303,314.85 305.2,315.07 307.4,315.31 309.6,315.25 311.8,314.65 314,315.01 316.2,315.04 318.4,314.99 320.6,315.19 322.8,314.76 325,315.19 327.2,314.66 329.4,314.74 331.6,314.33 333.8,314.47 336,314.72 338.2,314.88 340.4,315.12 342.6,314.75 344.8,315.06 347,315.04 349.2,314.78 351.4,314.78 353.6,315.23 355.8,314.99 358,314.92 360.2,314.79 362.4,314.83 364.6,314.53 366.8,314.57 369,314.53 371.2,314.95 373.4,314.37 375.6,314.92 377.8,314.54 380,314.55 382.2,314.57 384.4,314.51 386.6,314.58 388.8,314.27 391,314.31 393.2,314.76 395.4,314.7 397.6,314.27 399.8,314.46 402,314.4 404.2,314.29 406.4,314.62 408.6,314.54 410.8,314.28 413,314.65 415.2,314.81 417.4,314.33 419.6,314.44 421.8,314.7 424,314.59 426.2,314.6 428.4,314.57 430.6,314.88 432.8,314.67 435,314.67 437.2,314.56 439.4,314.59 441.6,314.87 443.8,314.4 446,314.91 448.2,314.3 450.4,314.67 452.6,314.27 454.8,314.72 457,314.7 459.2,314.85 461.4,314.91 463.6,314.56 465.8,314.72 468,314.9 470.2,314.68 472.4,314.48 474.6,314.47 476.8,314.45 479,314.92 481,314.6" fill="none" stroke="#6a6ac6" stroke-width="1.1" stroke-linejoin="round" stroke-linecap="round" clip-path="url(#c14)"/>
<clipPath id="c15"><rect x="281.5" y="286.4" width="198.9" height="86.9"/></clipPath>
<polyline points="281,313.68 283.2,313.56 285.4,313.87 287.6,314.06 289.8,313.84 292,313.89 294.2,313.56 296.4,313.89 298.6,314.21 300.8,314.15 303,314.06 305.2,313.63 307.4,314.18 309.6,314.15 311.8,313.67 314,313.99 316.2,313.56 318.4,313.63 320.6,313.77 322.8,313.66 325,314.08 327.2,314.12 329.4,313.79 331.6,313.77 333.8,313.63 336,313.61 338.2,314.05 340.4,313.97 342.6,313.59 344.8,313.89 347,313.83 349.2,314.14 351.4,314.05 353.6,313.97 355.8,313.94 358,314.21 360.2,314.24 362.4,313.79 364.6,313.72 366.8,314.11 369,313.59 371.2,313.81 373.4,313.6 375.6,313.77 377.8,313.6 380,313.75 382.2,314.1 384.4,314.18 386.6,314.1 388.8,313.94 391,313.98 393.2,313.8 395.4,313.67 397.6,313.86 399.8,314.06 402,313.59 404.2,313.56 406.4,314.09 408.6,313.76 410.8,314.04 413,314.06 415.2,314.2 417.4,313.83 419.6,313.8 421.8,314.11 424,314.09 426.2,314.01 428.4,314.12 430.6,314 432.8,314.22 435,313.78 437.2,314.07 439.4,314.21 441.6,313.78 443.8,313.98 446,313.81 448.2,313.87 450.4,313.6 452.6,313.56 454.8,314.08 457,313.87 459.2,313.99 461.4,314.07 463.6,313.84 465.8,313.81 468,313.67 470.2,314.11 472.4,314.13 474.6,314.06 476.8,314.16 479,314 481,313.9" fill="none" stroke="#f5cf48" stroke-width="1.1" stroke-linejoin="round" stroke-linecap="round" clip-path="url(#c15)"/>
<clipPath id="c16"><rect x="281.5" y="432.7" width="198.9" height="87.25"/></clipPath>
<polyline points="281,465.5 282.25,465.85 283.5,466.2 284.7,467.5 285.9,468.8 286.92,469 287.95,469.2 288.98,469.4 290,469.6 291,469.68 292,469.76 293,469.84 294,469.92 295,470 296,470.08 297,470.16 298,470.24 299,470.32 300,470.4 301,470.44 302,470.48 303,470.52 304,470.56 305,470.6 306,470.38 307,469.6 308.6,471.2 309.6,470.12 310.6,470.4 312.2,472 313.1,471.89 314,470.8 315,471.05 316,472.6 317,472.79 318,471.4 319,471.46 320,472.6 321,472.42 322,471.2 323,471.42 324,472.2 325,471.89 326,470.8 327,470.68 328,471.6 329,471.42 330,470 331,468.98 332,469.79 333,469 334,468.39 335,468.73 336,468 337,467.55 338,468.6 339,468.16 340,467 341,466.31 342,467.36 343,466.4 344,465.75 345,466.18 346,465.2 347,464.63 348,465.6 349,464.97 350,463.6 351,462.75 352,463 353,463.05 354,461.6 355.25,460.79 356.5,460.6 357.2,461.5 357.8,477.9 359,477.45 360.2,477 361.1,477.9 362.9,476 363.85,475.5 364.8,475 365.7,473.65 366.6,472.3 367.55,472.8 368.5,473.3 369.4,472.2 370.3,471.1 371.23,471.18 372.15,471.25 373.07,471.32 374,471.4 374.93,471.4 375.85,471.4 376.77,471.4 377.7,471.4 378.63,471.1 379.57,470.8 380.5,470.5 381.4,472.3 382.35,471.85 383.3,471.4 384.2,472.15 385.1,472.9 386.05,473.1 387,473.3 387.9,473.75 388.8,474.2 389.73,474.8 390.67,475.4 391.6,476 392.53,476.93 393.47,477.87 394.4,478.8 395.3,480.2 396.2,481.6 397.15,483.45 398.1,485.3 399.9,489.9 401.4,496.4 402.42,496.4 403.45,496.4 404.48,496.4 405.5,496.4 406.4,489.9 407.32,490.08 408.24,490.26 409.16,490.44 410.08,490.62 411,490.8 412,490.97 413,491.13 414,491.3 415,491.47 416,491.63 417,491.8 418.06,492.02 419.12,492.24 420.18,492.46 421.24,492.68 422.3,492.9 423.2,490.4 424.1,487.9 425.9,490 426.8,488.57 427.7,487.13 428.6,485.7 430.4,487.9 431.7,486.1 433,484.3 433.9,485.3 434.8,486.3 436.15,484.85 437.5,483.4 438.55,484.3 439.6,485.2 440.8,483.65 442,482.1 443.75,483.8 444.88,482.45 446,481.1 447.1,481.9 448.2,482.7 449.55,481.55 450.9,480.4 451.81,479.76 452.72,479.12 453.63,478.48 454.54,477.84 455.45,477.2 456.36,476.56 457.27,475.92 458.18,475.28 459.09,474.64 460,474 460.91,473.45 461.82,472.91 462.73,472.36 463.64,471.82 464.55,471.27 465.45,470.73 466.36,470.18 467.27,469.64 468.18,469.09 469.09,468.55 470,468 471,467.57 472,467.14 473,466.71 474,466.29 475,465.86 476,465.43 477,465 478,464.75 479,464.5 480,464.25 481,464" fill="none" stroke="#e2525b" stroke-width="1.1" stroke-linejoin="round" stroke-linecap="round" clip-path="url(#c16)"/>
<clipPath id="c17"><rect x="281.5" y="432.7" width="198.9" height="87.25"/></clipPath>
<polyline points="281,463.92 283.2,463.74 285.4,463.95 287.6,463.4 289.8,463.5 292,463.77 294.2,465.25 296.4,463.47 298.6,463.35 300.8,463.52 303,463.47 305.2,464.81 307.4,465.05 309.6,465.18 311.8,463.62 314,463.42 316.2,463.72 318.4,464.84 320.6,464.83 322.8,465.08 325,463.84 327.2,463.46 329.4,463.69 331.6,463.73 333.8,465.23 336,465.18 338.2,463.91 340.4,463.7 342.6,463.68 344.8,463.41 347,464.59 349.2,464.82 351.4,463.84 353.6,463.62 355.8,463.78 357.5,463.6 357.5,460.8 358.3,465 362,465.6 366,463.8 372,464.6 380,465.5 383,463.6 386,465.9 395,466 398,464.8 400,466.2 426,466 427.5,464 481,463.5" fill="none" stroke="#40bde3" stroke-width="1.1" stroke-linejoin="round" stroke-linecap="round" clip-path="url(#c17)"/>
<clipPath id="c18"><rect x="281.5" y="432.7" width="198.9" height="87.25"/></clipPath>
<polyline points="281,462.21 283.2,462.51 285.4,462.39 287.6,462.05 289.8,462 292,463.23 294.2,462.87 296.4,463.02 298.6,463.18 300.8,462.14 303,461.85 305.2,462.47 307.4,462.47 309.6,462.06 311.8,462.26 314,463.53 316.2,463.44 318.4,461.9 320.6,462.06 322.8,462.05 325,462.43 327.2,463.19 329.4,462.83 331.6,462.75 333.8,462.51 336,461.95 338.2,462.15 340.4,462.09 342.6,462.46 344.8,462.15 347,462.43 349.2,462.35 351.4,461.93 353.6,462.27 355.8,461.94 358,461.9 360.2,462.43 362.4,462.18 364.6,461.96 366.8,462.23 369,462.26 371.2,462.39 373.4,462.31 375.6,462.24 377.8,461.97 380,462.02 382.2,463.4 384.4,463.33 386.6,462.19 388.8,463.52 391,463.48 393.2,463.2 395.4,463.42 397.6,463.43 399.8,462.01 402,461.91 404.2,462.18 406.4,462.47 408.6,461.95 410.8,462.01 413,462.49 415.2,461.94 417.4,462.49 419.6,462.01 421.8,462.28 424,462.52 426.2,462.03 428.4,462.17 430.6,462.53 432.8,462.02 435,461.99 437.2,462.33 439.4,462.44 441.6,462.17 443.8,461.92 446,462.29 448.2,461.91 450.4,461.89 452.6,462.09 454.8,462.48 457,462.41 459.2,462.12 461.4,461.91 463.6,461.94 465.8,462.22 468,462.21 470.2,462.2 472.4,461.94 474.6,462.4 476.8,462.27 479,462.38 481,462.2" fill="none" stroke="#5fc6bd" stroke-width="1.1" stroke-linejoin="round" stroke-linecap="round" clip-path="url(#c18)"/>
<clipPath id="c19"><rect x="281.5" y="432.7" width="198.9" height="87.25"/></clipPath>
<polyline points="281,460.8 283.2,460.99 285.4,460.94 287.6,461.25 289.8,460.77 292,460.89 294.2,460.84 296.4,461.13 298.6,460.8 300.8,461.62 303,461.06 305.2,461.44 307.4,461.62 309.6,461.57 311.8,461.18 314,461.05 316.2,461.59 318.4,461.72 320.6,461.54 322.8,461.26 325,461.59 327.2,461.53 329.4,461.32 331.6,461.08 333.8,460.95 336,461.06 338.2,461.44 340.4,461.03 342.6,461.6 344.8,461.64 347,461.42 349.2,461.51 351.4,460.97 353.6,461.07 355.8,461.56 358,461.17 360.2,461.01 362.4,460.74 364.6,460.99 366.8,461.01 369,460.87 371.2,460.68 373.4,460.96 375.6,460.72 377.8,460.68 380,461.13 382.2,461.74 384.4,461.24 386.6,461.24 388.8,461.48 391,461.29 393.2,461.7 395.4,461.58 397.6,461.46 399.8,461.34 402,461.15 404.2,460.8 406.4,460.77 408.6,461.03 410.8,460.87 413,461.29 415.2,460.71 417.4,460.87 419.6,460.8 421.8,461.17 424,461.23 426.2,461.17 428.4,460.77 430.6,461.25 432.8,460.65 435,460.9 437.2,461.32 439.4,461.31 441.6,460.67 443.8,461.12 446,460.76 448.2,461.05 450.4,460.82 452.6,460.76 454.8,461 457,461.05 459.2,460.98 461.4,461.01 463.6,460.88 465.8,461.27 468,460.83 470.2,461.25 472.4,461.09 474.6,461.14 476.8,460.67 479,461.11 481,461" fill="none" stroke="#6a6ac6" stroke-width="1.1" stroke-linejoin="round" stroke-linecap="round" clip-path="url(#c19)"/>
<clipPath id="c20"><rect x="281.5" y="432.7" width="198.9" height="87.25"/></clipPath>
<polyline points="281,459.98 283.2,460.15 285.4,460.45 287.6,459.97 289.8,460.09 292,459.99 294.2,460.16 296.4,460.41 298.6,460.17 300.8,460.36 303,460 305.2,460.56 307.4,460.04 309.6,460.07 311.8,460.3 314,460.55 316.2,460.48 318.4,460.63 320.6,460.48 322.8,460.22 325,460.24 327.2,460.45 329.4,460.14 331.6,460.55 333.8,460.59 336,460.48 338.2,460.31 340.4,460.07 342.6,460.16 344.8,460.15 347,460.18 349.2,460.27 351.4,460.33 353.6,460.1 355.8,460.51 358,460.46 360.2,460.54 362.4,460.14 364.6,460.38 366.8,460.41 369,460.22 371.2,460.24 373.4,460.52 375.6,460.37 377.8,460.58 380,460.29 382.2,460.53 384.4,460.55 386.6,460.5 388.8,460.57 391,460.44 393.2,460.27 395.4,460.16 397.6,460.52 399.8,460.05 402,460.23 404.2,460.11 406.4,460.36 408.6,460.57 410.8,460.18 413,460.51 415.2,460.51 417.4,460.42 419.6,460.12 421.8,460.52 424,460.28 426.2,460.47 428.4,460.27 430.6,460.55 432.8,460.44 435,460.07 437.2,460.08 439.4,460.54 441.6,460.21 443.8,460.22 446,459.98 448.2,460.39 450.4,460.51 452.6,460.58 454.8,460.09 457,460.55 459.2,460.07 461.4,460.21 463.6,460.22 465.8,460.35 468,460.31 470.2,460.32 472.4,460.32 474.6,460.6 476.8,460.12 479,460.1 481,460.3" fill="none" stroke="#f5cf48" stroke-width="1.1" stroke-linejoin="round" stroke-linecap="round" clip-path="url(#c20)"/>
<path d="M37.3,19 H236.5 V105.9" fill="none" stroke="#767676" stroke-width="1.4"/>
<path d="M37.3,19 V105.9 H236.5" fill="none" stroke="#5a5a5a" stroke-width="1.4"/>
<line x1="71.3" y1="105.9" x2="71.3" y2="104.3" stroke="#5a5a5a" stroke-width="0.7"/>
<line x1="105.9" y1="105.9" x2="105.9" y2="104.3" stroke="#5a5a5a" stroke-width="0.7"/>
<line x1="140.5" y1="105.9" x2="140.5" y2="104.3" stroke="#5a5a5a" stroke-width="0.7"/>
<line x1="175.1" y1="105.9" x2="175.1" y2="104.3" stroke="#5a5a5a" stroke-width="0.7"/>
<line x1="209.7" y1="105.9" x2="209.7" y2="104.3" stroke="#5a5a5a" stroke-width="0.7"/>
<line x1="37.3" y1="105.9" x2="38.9" y2="105.9" stroke="#5a5a5a" stroke-width="0.7"/>
<line x1="37.3" y1="91.42" x2="38.9" y2="91.42" stroke="#5a5a5a" stroke-width="0.7"/>
<line x1="37.3" y1="76.93" x2="38.9" y2="76.93" stroke="#5a5a5a" stroke-width="0.7"/>
<line x1="37.3" y1="62.45" x2="38.9" y2="62.45" stroke="#5a5a5a" stroke-width="0.7"/>
<line x1="37.3" y1="47.97" x2="38.9" y2="47.97" stroke="#5a5a5a" stroke-width="0.7"/>
<line x1="37.3" y1="33.48" x2="38.9" y2="33.48" stroke="#5a5a5a" stroke-width="0.7"/>
<line x1="37.3" y1="19" x2="38.9" y2="19" stroke="#5a5a5a" stroke-width="0.7"/>
<text x="71.3" y="113" font-family="'Liberation Sans', 'DejaVu Sans', sans-serif" font-size="6.6" fill="#3a3a3a" stroke="#3a3a3a" stroke-width="0.13" text-anchor="middle" textLength="3.45" lengthAdjust="spacingAndGlyphs">4</text>
<text x="105.9" y="113" font-family="'Liberation Sans', 'DejaVu Sans', sans-serif" font-size="6.6" fill="#3a3a3a" stroke="#3a3a3a" stroke-width="0.13" text-anchor="middle" textLength="3.45" lengthAdjust="spacingAndGlyphs">8</text>
<text x="140.5" y="113" font-family="'Liberation Sans', 'DejaVu Sans', sans-serif" font-size="6.6" fill="#3a3a3a" stroke="#3a3a3a" stroke-width="0.13" text-anchor="middle" textLength="6.9" lengthAdjust="spacingAndGlyphs">12</text>
<text x="175.1" y="113" font-family="'Liberation Sans', 'DejaVu Sans', sans-serif" font-size="6.6" fill="#3a3a3a" stroke="#3a3a3a" stroke-width="0.13" text-anchor="middle" textLength="6.9" lengthAdjust="spacingAndGlyphs">16</text>
<text x="209.7" y="113" font-family="'Liberation Sans', 'DejaVu Sans', sans-serif" font-size="6.6" fill="#3a3a3a" stroke="#3a3a3a" stroke-width="0.13" text-anchor="middle" textLength="6.9" lengthAdjust="spacingAndGlyphs">20</text>
<text x="34.6" y="108.1" font-family="'Liberation Sans', 'DejaVu Sans', sans-serif" font-size="6.2" fill="#3a3a3a" stroke="#3a3a3a" stroke-width="0.13" text-anchor="end">−0.1</text>
<text x="34.6" y="93.62" font-family="'Liberation Sans', 'DejaVu Sans', sans-serif" font-size="6.2" fill="#3a3a3a" stroke="#3a3a3a" stroke-width="0.13" text-anchor="end">0.0</text>
<text x="34.6" y="79.13" font-family="'Liberation Sans', 'DejaVu Sans', sans-serif" font-size="6.2" fill="#3a3a3a" stroke="#3a3a3a" stroke-width="0.13" text-anchor="end">0.1</text>
<text x="34.6" y="64.65" font-family="'Liberation Sans', 'DejaVu Sans', sans-serif" font-size="6.2" fill="#3a3a3a" stroke="#3a3a3a" stroke-width="0.13" text-anchor="end">0.2</text>
<text x="34.6" y="50.17" font-family="'Liberation Sans', 'DejaVu Sans', sans-serif" font-size="6.2" fill="#3a3a3a" stroke="#3a3a3a" stroke-width="0.13" text-anchor="end">0.3</text>
<text x="34.6" y="35.68" font-family="'Liberation Sans', 'DejaVu Sans', sans-serif" font-size="6.2" fill="#3a3a3a" stroke="#3a3a3a" stroke-width="0.13" text-anchor="end">0.4</text>
<text x="34.6" y="21.2" font-family="'Liberation Sans', 'DejaVu Sans', sans-serif" font-size="6.2" fill="#3a3a3a" stroke="#3a3a3a" stroke-width="0.13" text-anchor="end">0.5</text>
<path d="M281.5,19 H480.4 V105.9" fill="none" stroke="#767676" stroke-width="1.4"/>
<path d="M281.5,19 V105.9 H480.4" fill="none" stroke="#5a5a5a" stroke-width="1.4"/>
<line x1="319.8" y1="105.9" x2="319.8" y2="104.3" stroke="#5a5a5a" stroke-width="0.7"/>
<line x1="362" y1="105.9" x2="362" y2="104.3" stroke="#5a5a5a" stroke-width="0.7"/>
<line x1="404.2" y1="105.9" x2="404.2" y2="104.3" stroke="#5a5a5a" stroke-width="0.7"/>
<line x1="446.4" y1="105.9" x2="446.4" y2="104.3" stroke="#5a5a5a" stroke-width="0.7"/>
<line x1="281.5" y1="105.9" x2="283.1" y2="105.9" stroke="#5a5a5a" stroke-width="0.7"/>
<line x1="281.5" y1="91.42" x2="283.1" y2="91.42" stroke="#5a5a5a" stroke-width="0.7"/>
<line x1="281.5" y1="76.93" x2="283.1" y2="76.93" stroke="#5a5a5a" stroke-width="0.7"/>
<line x1="281.5" y1="62.45" x2="283.1" y2="62.45" stroke="#5a5a5a" stroke-width="0.7"/>
<line x1="281.5" y1="47.97" x2="283.1" y2="47.97" stroke="#5a5a5a" stroke-width="0.7"/>
<line x1="281.5" y1="33.48" x2="283.1" y2="33.48" stroke="#5a5a5a" stroke-width="0.7"/>
<text x="319.8" y="113" font-family="'Liberation Sans', 'DejaVu Sans', sans-serif" font-size="6.6" fill="#3a3a3a" stroke="#3a3a3a" stroke-width="0.13" text-anchor="middle" textLength="6.9" lengthAdjust="spacingAndGlyphs">10</text>
<text x="362" y="113" font-family="'Liberation Sans', 'DejaVu Sans', sans-serif" font-size="6.6" fill="#3a3a3a" stroke="#3a3a3a" stroke-width="0.13" text-anchor="middle" textLength="6.9" lengthAdjust="spacingAndGlyphs">20</text>
<text x="404.2" y="113" font-family="'Liberation Sans', 'DejaVu Sans', sans-serif" font-size="6.6" fill="#3a3a3a" stroke="#3a3a3a" stroke-width="0.13" text-anchor="middle" textLength="6.9" lengthAdjust="spacingAndGlyphs">30</text>
<text x="446.4" y="113" font-family="'Liberation Sans', 'DejaVu Sans', sans-serif" font-size="6.6" fill="#3a3a3a" stroke="#3a3a3a" stroke-width="0.13" text-anchor="middle" textLength="6.9" lengthAdjust="spacingAndGlyphs">40</text>
<text x="279.1" y="108.1" font-family="'Liberation Sans', 'DejaVu Sans', sans-serif" font-size="6.2" fill="#3a3a3a" stroke="#3a3a3a" stroke-width="0.13" text-anchor="end">0.0</text>
<text x="279.1" y="93.62" font-family="'Liberation Sans', 'DejaVu Sans', sans-serif" font-size="6.2" fill="#3a3a3a" stroke="#3a3a3a" stroke-width="0.13" text-anchor="end">0.1</text>
<text x="279.1" y="79.13" font-family="'Liberation Sans', 'DejaVu Sans', sans-serif" font-size="6.2" fill="#3a3a3a" stroke="#3a3a3a" stroke-width="0.13" text-anchor="end">0.2</text>
<text x="279.1" y="64.65" font-family="'Liberation Sans', 'DejaVu Sans', sans-serif" font-size="6.2" fill="#3a3a3a" stroke="#3a3a3a" stroke-width="0.13" text-anchor="end">0.3</text>
<text x="279.1" y="50.17" font-family="'Liberation Sans', 'DejaVu Sans', sans-serif" font-size="6.2" fill="#3a3a3a" stroke="#3a3a3a" stroke-width="0.13" text-anchor="end">0.4</text>
<text x="279.1" y="35.68" font-family="'Liberation Sans', 'DejaVu Sans', sans-serif" font-size="6.2" fill="#3a3a3a" stroke="#3a3a3a" stroke-width="0.13" text-anchor="end">0.5</text>
<path d="M37.3,150.15 H236.5 V237.25" fill="none" stroke="#767676" stroke-width="1.4"/>
<path d="M37.3,150.15 V237.25 H236.5" fill="none" stroke="#5a5a5a" stroke-width="1.4"/>
<line x1="71.3" y1="237.25" x2="71.3" y2="235.65" stroke="#5a5a5a" stroke-width="0.7"/>
<line x1="105.9" y1="237.25" x2="105.9" y2="235.65" stroke="#5a5a5a" stroke-width="0.7"/>
<line x1="140.5" y1="237.25" x2="140.5" y2="235.65" stroke="#5a5a5a" stroke-width="0.7"/>
<line x1="175.1" y1="237.25" x2="175.1" y2="235.65" stroke="#5a5a5a" stroke-width="0.7"/>
<line x1="209.7" y1="237.25" x2="209.7" y2="235.65" stroke="#5a5a5a" stroke-width="0.7"/>
<line x1="37.3" y1="225.37" x2="38.9" y2="225.37" stroke="#5a5a5a" stroke-width="0.7"/>
<line x1="37.3" y1="205.58" x2="38.9" y2="205.58" stroke="#5a5a5a" stroke-width="0.7"/>
<line x1="37.3" y1="185.78" x2="38.9" y2="185.78" stroke="#5a5a5a" stroke-width="0.7"/>
<line x1="37.3" y1="165.99" x2="38.9" y2="165.99" stroke="#5a5a5a" stroke-width="0.7"/>
<text x="71.3" y="244.35" font-family="'Liberation Sans', 'DejaVu Sans', sans-serif" font-size="6.6" fill="#3a3a3a" stroke="#3a3a3a" stroke-width="0.13" text-anchor="middle" textLength="3.45" lengthAdjust="spacingAndGlyphs">4</text>
<text x="105.9" y="244.35" font-family="'Liberation Sans', 'DejaVu Sans', sans-serif" font-size="6.6" fill="#3a3a3a" stroke="#3a3a3a" stroke-width="0.13" text-anchor="middle" textLength="3.45" lengthAdjust="spacingAndGlyphs">8</text>
<text x="140.5" y="244.35" font-family="'Liberation Sans', 'DejaVu Sans', sans-serif" font-size="6.6" fill="#3a3a3a" stroke="#3a3a3a" stroke-width="0.13" text-anchor="middle" textLength="6.9" lengthAdjust="spacingAndGlyphs">12</text>
<text x="175.1" y="244.35" font-family="'Liberation Sans', 'DejaVu Sans', sans-serif" font-size="6.6" fill="#3a3a3a" stroke="#3a3a3a" stroke-width="0.13" text-anchor="middle" textLength="6.9" lengthAdjust="spacingAndGlyphs">16</text>
<text x="209.7" y="244.35" font-family="'Liberation Sans', 'DejaVu Sans', sans-serif" font-size="6.6" fill="#3a3a3a" stroke="#3a3a3a" stroke-width="0.13" text-anchor="middle" textLength="6.9" lengthAdjust="spacingAndGlyphs">20</text>
<text x="34.6" y="227.57" font-family="'Liberation Sans', 'DejaVu Sans', sans-serif" font-size="6.2" fill="#3a3a3a" stroke="#3a3a3a" stroke-width="0.13" text-anchor="end">−0.025</text>
<text x="34.6" y="207.78" font-family="'Liberation Sans', 'DejaVu Sans', sans-serif" font-size="6.2" fill="#3a3a3a" stroke="#3a3a3a" stroke-width="0.13" text-anchor="end">0.000</text>
<text x="34.6" y="187.98" font-family="'Liberation Sans', 'DejaVu Sans', sans-serif" font-size="6.2" fill="#3a3a3a" stroke="#3a3a3a" stroke-width="0.13" text-anchor="end">0.025</text>
<text x="34.6" y="168.19" font-family="'Liberation Sans', 'DejaVu Sans', sans-serif" font-size="6.2" fill="#3a3a3a" stroke="#3a3a3a" stroke-width="0.13" text-anchor="end">0.050</text>
<path d="M281.5,150.15 H480.4 V237.25" fill="none" stroke="#767676" stroke-width="1.4"/>
<path d="M281.5,150.15 V237.25 H480.4" fill="none" stroke="#5a5a5a" stroke-width="1.4"/>
<line x1="315.5" y1="237.25" x2="315.5" y2="235.65" stroke="#5a5a5a" stroke-width="0.7"/>
<line x1="350.1" y1="237.25" x2="350.1" y2="235.65" stroke="#5a5a5a" stroke-width="0.7"/>
<line x1="384.7" y1="237.25" x2="384.7" y2="235.65" stroke="#5a5a5a" stroke-width="0.7"/>
<line x1="419.3" y1="237.25" x2="419.3" y2="235.65" stroke="#5a5a5a" stroke-width="0.7"/>
<line x1="453.9" y1="237.25" x2="453.9" y2="235.65" stroke="#5a5a5a" stroke-width="0.7"/>
<line x1="281.5" y1="237.25" x2="283.1" y2="237.25" stroke="#5a5a5a" stroke-width="0.7"/>
<line x1="281.5" y1="208.22" x2="283.1" y2="208.22" stroke="#5a5a5a" stroke-width="0.7"/>
<line x1="281.5" y1="179.18" x2="283.1" y2="179.18" stroke="#5a5a5a" stroke-width="0.7"/>
<line x1="281.5" y1="150.15" x2="283.1" y2="150.15" stroke="#5a5a5a" stroke-width="0.7"/>
<text x="315.5" y="244.35" font-family="'Liberation Sans', 'DejaVu Sans', sans-serif" font-size="6.6" fill="#3a3a3a" stroke="#3a3a3a" stroke-width="0.13" text-anchor="middle" textLength="6.9" lengthAdjust="spacingAndGlyphs">50</text>
<text x="350.1" y="244.35" font-family="'Liberation Sans', 'DejaVu Sans', sans-serif" font-size="6.6" fill="#3a3a3a" stroke="#3a3a3a" stroke-width="0.13" text-anchor="middle" textLength="10.34" lengthAdjust="spacingAndGlyphs">100</text>
<text x="384.7" y="244.35" font-family="'Liberation Sans', 'DejaVu Sans', sans-serif" font-size="6.6" fill="#3a3a3a" stroke="#3a3a3a" stroke-width="0.13" text-anchor="middle" textLength="10.34" lengthAdjust="spacingAndGlyphs">150</text>
<text x="419.3" y="244.35" font-family="'Liberation Sans', 'DejaVu Sans', sans-serif" font-size="6.6" fill="#3a3a3a" stroke="#3a3a3a" stroke-width="0.13" text-anchor="middle" textLength="10.34" lengthAdjust="spacingAndGlyphs">200</text>
<text x="453.9" y="244.35" font-family="'Liberation Sans', 'DejaVu Sans', sans-serif" font-size="6.6" fill="#3a3a3a" stroke="#3a3a3a" stroke-width="0.13" text-anchor="middle" textLength="10.34" lengthAdjust="spacingAndGlyphs">250</text>
<text x="278.9" y="239.05" font-family="'Liberation Serif', 'DejaVu Serif', serif" font-size="6.3" fill="#3a3a3a" stroke="#3a3a3a" stroke-width="0.13" text-anchor="end">3</text>
<text x="278.9" y="210.02" font-family="'Liberation Serif', 'DejaVu Serif', serif" font-size="6.3" fill="#3a3a3a" stroke="#3a3a3a" stroke-width="0.13" text-anchor="end">6</text>
<text x="278.9" y="180.98" font-family="'Liberation Serif', 'DejaVu Serif', serif" font-size="6.3" fill="#3a3a3a" stroke="#3a3a3a" stroke-width="0.13" text-anchor="end">9</text>
<text x="278.9" y="151.95" font-family="'Liberation Serif', 'DejaVu Serif', serif" font-size="6.3" fill="#3a3a3a" stroke="#3a3a3a" stroke-width="0.13" text-anchor="end">12</text>
<path d="M37.3,286.4 H236.5 V373.3" fill="none" stroke="#767676" stroke-width="1.4"/>
<path d="M37.3,286.4 V373.3 H236.5" fill="none" stroke="#5a5a5a" stroke-width="1.4"/>
<line x1="71.3" y1="373.3" x2="71.3" y2="371.7" stroke="#5a5a5a" stroke-width="0.7"/>
<line x1="105.9" y1="373.3" x2="105.9" y2="371.7" stroke="#5a5a5a" stroke-width="0.7"/>
<line x1="140.5" y1="373.3" x2="140.5" y2="371.7" stroke="#5a5a5a" stroke-width="0.7"/>
<line x1="175.1" y1="373.3" x2="175.1" y2="371.7" stroke="#5a5a5a" stroke-width="0.7"/>
<line x1="209.7" y1="373.3" x2="209.7" y2="371.7" stroke="#5a5a5a" stroke-width="0.7"/>
<line x1="37.3" y1="363.99" x2="38.9" y2="363.99" stroke="#5a5a5a" stroke-width="0.7"/>
<line x1="37.3" y1="348.47" x2="38.9" y2="348.47" stroke="#5a5a5a" stroke-width="0.7"/>
<line x1="37.3" y1="332.95" x2="38.9" y2="332.95" stroke="#5a5a5a" stroke-width="0.7"/>
<line x1="37.3" y1="317.44" x2="38.9" y2="317.44" stroke="#5a5a5a" stroke-width="0.7"/>
<line x1="37.3" y1="301.92" x2="38.9" y2="301.92" stroke="#5a5a5a" stroke-width="0.7"/>
<line x1="37.3" y1="286.4" x2="38.9" y2="286.4" stroke="#5a5a5a" stroke-width="0.7"/>
<text x="71.3" y="380.05" font-family="'Liberation Sans', 'DejaVu Sans', sans-serif" font-size="6.6" fill="#3a3a3a" stroke="#3a3a3a" stroke-width="0.13" text-anchor="middle" textLength="3.45" lengthAdjust="spacingAndGlyphs">4</text>
<text x="105.9" y="380.05" font-family="'Liberation Sans', 'DejaVu Sans', sans-serif" font-size="6.6" fill="#3a3a3a" stroke="#3a3a3a" stroke-width="0.13" text-anchor="middle" textLength="3.45" lengthAdjust="spacingAndGlyphs">8</text>
<text x="140.5" y="380.05" font-family="'Liberation Sans', 'DejaVu Sans', sans-serif" font-size="6.6" fill="#3a3a3a" stroke="#3a3a3a" stroke-width="0.13" text-anchor="middle" textLength="6.9" lengthAdjust="spacingAndGlyphs">12</text>
<text x="175.1" y="380.05" font-family="'Liberation Sans', 'DejaVu Sans', sans-serif" font-size="6.6" fill="#3a3a3a" stroke="#3a3a3a" stroke-width="0.13" text-anchor="middle" textLength="6.9" lengthAdjust="spacingAndGlyphs">16</text>
<text x="209.7" y="380.05" font-family="'Liberation Sans', 'DejaVu Sans', sans-serif" font-size="6.6" fill="#3a3a3a" stroke="#3a3a3a" stroke-width="0.13" text-anchor="middle" textLength="6.9" lengthAdjust="spacingAndGlyphs">20</text>
<text x="34.6" y="366.19" font-family="'Liberation Sans', 'DejaVu Sans', sans-serif" font-size="6.2" fill="#3a3a3a" stroke="#3a3a3a" stroke-width="0.13" text-anchor="end">0.0</text>
<text x="34.6" y="350.67" font-family="'Liberation Sans', 'DejaVu Sans', sans-serif" font-size="6.2" fill="#3a3a3a" stroke="#3a3a3a" stroke-width="0.13" text-anchor="end">0.5</text>
<text x="34.6" y="335.15" font-family="'Liberation Sans', 'DejaVu Sans', sans-serif" font-size="6.2" fill="#3a3a3a" stroke="#3a3a3a" stroke-width="0.13" text-anchor="end">1.0</text>
<text x="34.6" y="319.64" font-family="'Liberation Sans', 'DejaVu Sans', sans-serif" font-size="6.2" fill="#3a3a3a" stroke="#3a3a3a" stroke-width="0.13" text-anchor="end">1.5</text>
<text x="34.6" y="304.12" font-family="'Liberation Sans', 'DejaVu Sans', sans-serif" font-size="6.2" fill="#3a3a3a" stroke="#3a3a3a" stroke-width="0.13" text-anchor="end">2.0</text>
<text x="34.6" y="288.6" font-family="'Liberation Sans', 'DejaVu Sans', sans-serif" font-size="6.2" fill="#3a3a3a" stroke="#3a3a3a" stroke-width="0.13" text-anchor="end">2.5</text>
<path d="M281.5,286.4 H480.4 V373.3" fill="none" stroke="#767676" stroke-width="1.4"/>
<path d="M281.5,286.4 V373.3 H480.4" fill="none" stroke="#5a5a5a" stroke-width="1.4"/>
<line x1="315.5" y1="373.3" x2="315.5" y2="371.7" stroke="#5a5a5a" stroke-width="0.7"/>
<line x1="350.1" y1="373.3" x2="350.1" y2="371.7" stroke="#5a5a5a" stroke-width="0.7"/>
<line x1="384.7" y1="373.3" x2="384.7" y2="371.7" stroke="#5a5a5a" stroke-width="0.7"/>
<line x1="419.3" y1="373.3" x2="419.3" y2="371.7" stroke="#5a5a5a" stroke-width="0.7"/>
<line x1="453.9" y1="373.3" x2="453.9" y2="371.7" stroke="#5a5a5a" stroke-width="0.7"/>
<line x1="281.5" y1="373.3" x2="283.1" y2="373.3" stroke="#5a5a5a" stroke-width="0.7"/>
<line x1="281.5" y1="344.33" x2="283.1" y2="344.33" stroke="#5a5a5a" stroke-width="0.7"/>
<line x1="281.5" y1="315.37" x2="283.1" y2="315.37" stroke="#5a5a5a" stroke-width="0.7"/>
<line x1="281.5" y1="286.4" x2="283.1" y2="286.4" stroke="#5a5a5a" stroke-width="0.7"/>
<text x="315.5" y="380.05" font-family="'Liberation Sans', 'DejaVu Sans', sans-serif" font-size="6.6" fill="#3a3a3a" stroke="#3a3a3a" stroke-width="0.13" text-anchor="middle" textLength="6.9" lengthAdjust="spacingAndGlyphs">50</text>
<text x="350.1" y="380.05" font-family="'Liberation Sans', 'DejaVu Sans', sans-serif" font-size="6.6" fill="#3a3a3a" stroke="#3a3a3a" stroke-width="0.13" text-anchor="middle" textLength="10.34" lengthAdjust="spacingAndGlyphs">100</text>
<text x="384.7" y="380.05" font-family="'Liberation Sans', 'DejaVu Sans', sans-serif" font-size="6.6" fill="#3a3a3a" stroke="#3a3a3a" stroke-width="0.13" text-anchor="middle" textLength="10.34" lengthAdjust="spacingAndGlyphs">150</text>
<text x="419.3" y="380.05" font-family="'Liberation Sans', 'DejaVu Sans', sans-serif" font-size="6.6" fill="#3a3a3a" stroke="#3a3a3a" stroke-width="0.13" text-anchor="middle" textLength="10.34" lengthAdjust="spacingAndGlyphs">200</text>
<text x="453.9" y="380.05" font-family="'Liberation Sans', 'DejaVu Sans', sans-serif" font-size="6.6" fill="#3a3a3a" stroke="#3a3a3a" stroke-width="0.13" text-anchor="middle" textLength="10.34" lengthAdjust="spacingAndGlyphs">250</text>
<text x="278.9" y="375.1" font-family="'Liberation Serif', 'DejaVu Serif', serif" font-size="6.3" fill="#3a3a3a" stroke="#3a3a3a" stroke-width="0.13" text-anchor="end">3</text>
<text x="278.9" y="346.13" font-family="'Liberation Serif', 'DejaVu Serif', serif" font-size="6.3" fill="#3a3a3a" stroke="#3a3a3a" stroke-width="0.13" text-anchor="end">6</text>
<text x="278.9" y="317.17" font-family="'Liberation Serif', 'DejaVu Serif', serif" font-size="6.3" fill="#3a3a3a" stroke="#3a3a3a" stroke-width="0.13" text-anchor="end">9</text>
<text x="278.9" y="288.2" font-family="'Liberation Serif', 'DejaVu Serif', serif" font-size="6.3" fill="#3a3a3a" stroke="#3a3a3a" stroke-width="0.13" text-anchor="end">12</text>
<path d="M37.3,432.7 H236.5 V519.95" fill="none" stroke="#767676" stroke-width="1.4"/>
<path d="M37.3,432.7 V519.95 H236.5" fill="none" stroke="#5a5a5a" stroke-width="1.4"/>
<line x1="71.3" y1="519.95" x2="71.3" y2="518.35" stroke="#5a5a5a" stroke-width="0.7"/>
<line x1="105.9" y1="519.95" x2="105.9" y2="518.35" stroke="#5a5a5a" stroke-width="0.7"/>
<line x1="140.5" y1="519.95" x2="140.5" y2="518.35" stroke="#5a5a5a" stroke-width="0.7"/>
<line x1="175.1" y1="519.95" x2="175.1" y2="518.35" stroke="#5a5a5a" stroke-width="0.7"/>
<line x1="209.7" y1="519.95" x2="209.7" y2="518.35" stroke="#5a5a5a" stroke-width="0.7"/>
<line x1="37.3" y1="510.6" x2="38.9" y2="510.6" stroke="#5a5a5a" stroke-width="0.7"/>
<line x1="37.3" y1="495.02" x2="38.9" y2="495.02" stroke="#5a5a5a" stroke-width="0.7"/>
<line x1="37.3" y1="479.44" x2="38.9" y2="479.44" stroke="#5a5a5a" stroke-width="0.7"/>
<line x1="37.3" y1="463.86" x2="38.9" y2="463.86" stroke="#5a5a5a" stroke-width="0.7"/>
<line x1="37.3" y1="448.28" x2="38.9" y2="448.28" stroke="#5a5a5a" stroke-width="0.7"/>
<line x1="37.3" y1="432.7" x2="38.9" y2="432.7" stroke="#5a5a5a" stroke-width="0.7"/>
<text x="71.3" y="527.05" font-family="'Liberation Sans', 'DejaVu Sans', sans-serif" font-size="6.6" fill="#3a3a3a" stroke="#3a3a3a" stroke-width="0.13" text-anchor="middle" textLength="3.45" lengthAdjust="spacingAndGlyphs">4</text>
<text x="105.9" y="527.05" font-family="'Liberation Sans', 'DejaVu Sans', sans-serif" font-size="6.6" fill="#3a3a3a" stroke="#3a3a3a" stroke-width="0.13" text-anchor="middle" textLength="3.45" lengthAdjust="spacingAndGlyphs">8</text>
<text x="140.5" y="527.05" font-family="'Liberation Sans', 'DejaVu Sans', sans-serif" font-size="6.6" fill="#3a3a3a" stroke="#3a3a3a" stroke-width="0.13" text-anchor="middle" textLength="6.9" lengthAdjust="spacingAndGlyphs">12</text>
<text x="175.1" y="527.05" font-family="'Liberation Sans', 'DejaVu Sans', sans-serif" font-size="6.6" fill="#3a3a3a" stroke="#3a3a3a" stroke-width="0.13" text-anchor="middle" textLength="6.9" lengthAdjust="spacingAndGlyphs">16</text>
<text x="209.7" y="527.05" font-family="'Liberation Sans', 'DejaVu Sans', sans-serif" font-size="6.6" fill="#3a3a3a" stroke="#3a3a3a" stroke-width="0.13" text-anchor="middle" textLength="6.9" lengthAdjust="spacingAndGlyphs">20</text>
<text x="34.6" y="512.8" font-family="'Liberation Sans', 'DejaVu Sans', sans-serif" font-size="6.2" fill="#3a3a3a" stroke="#3a3a3a" stroke-width="0.13" text-anchor="end">0.0</text>
<text x="34.6" y="497.22" font-family="'Liberation Sans', 'DejaVu Sans', sans-serif" font-size="6.2" fill="#3a3a3a" stroke="#3a3a3a" stroke-width="0.13" text-anchor="end">0.5</text>
<text x="34.6" y="481.64" font-family="'Liberation Sans', 'DejaVu Sans', sans-serif" font-size="6.2" fill="#3a3a3a" stroke="#3a3a3a" stroke-width="0.13" text-anchor="end">1.0</text>
<text x="34.6" y="466.06" font-family="'Liberation Sans', 'DejaVu Sans', sans-serif" font-size="6.2" fill="#3a3a3a" stroke="#3a3a3a" stroke-width="0.13" text-anchor="end">1.5</text>
<text x="34.6" y="450.48" font-family="'Liberation Sans', 'DejaVu Sans', sans-serif" font-size="6.2" fill="#3a3a3a" stroke="#3a3a3a" stroke-width="0.13" text-anchor="end">2.0</text>
<text x="34.6" y="434.9" font-family="'Liberation Sans', 'DejaVu Sans', sans-serif" font-size="6.2" fill="#3a3a3a" stroke="#3a3a3a" stroke-width="0.13" text-anchor="end">2.5</text>
<path d="M281.5,432.7 H480.4 V519.95" fill="none" stroke="#767676" stroke-width="1.4"/>
<path d="M281.5,432.7 V519.95 H480.4" fill="none" stroke="#5a5a5a" stroke-width="1.4"/>
<line x1="315.5" y1="519.95" x2="315.5" y2="518.35" stroke="#5a5a5a" stroke-width="0.7"/>
<line x1="350.1" y1="519.95" x2="350.1" y2="518.35" stroke="#5a5a5a" stroke-width="0.7"/>
<line x1="384.7" y1="519.95" x2="384.7" y2="518.35" stroke="#5a5a5a" stroke-width="0.7"/>
<line x1="419.3" y1="519.95" x2="419.3" y2="518.35" stroke="#5a5a5a" stroke-width="0.7"/>
<line x1="453.9" y1="519.95" x2="453.9" y2="518.35" stroke="#5a5a5a" stroke-width="0.7"/>
<line x1="281.5" y1="519.95" x2="283.1" y2="519.95" stroke="#5a5a5a" stroke-width="0.7"/>
<line x1="281.5" y1="490.87" x2="283.1" y2="490.87" stroke="#5a5a5a" stroke-width="0.7"/>
<line x1="281.5" y1="461.78" x2="283.1" y2="461.78" stroke="#5a5a5a" stroke-width="0.7"/>
<line x1="281.5" y1="432.7" x2="283.1" y2="432.7" stroke="#5a5a5a" stroke-width="0.7"/>
<text x="315.5" y="527.05" font-family="'Liberation Sans', 'DejaVu Sans', sans-serif" font-size="6.6" fill="#3a3a3a" stroke="#3a3a3a" stroke-width="0.13" text-anchor="middle" textLength="6.9" lengthAdjust="spacingAndGlyphs">50</text>
<text x="350.1" y="527.05" font-family="'Liberation Sans', 'DejaVu Sans', sans-serif" font-size="6.6" fill="#3a3a3a" stroke="#3a3a3a" stroke-width="0.13" text-anchor="middle" textLength="10.34" lengthAdjust="spacingAndGlyphs">100</text>
<text x="384.7" y="527.05" font-family="'Liberation Sans', 'DejaVu Sans', sans-serif" font-size="6.6" fill="#3a3a3a" stroke="#3a3a3a" stroke-width="0.13" text-anchor="middle" textLength="10.34" lengthAdjust="spacingAndGlyphs">150</text>
<text x="419.3" y="527.05" font-family="'Liberation Sans', 'DejaVu Sans', sans-serif" font-size="6.6" fill="#3a3a3a" stroke="#3a3a3a" stroke-width="0.13" text-anchor="middle" textLength="10.34" lengthAdjust="spacingAndGlyphs">200</text>
<text x="453.9" y="527.05" font-family="'Liberation Sans', 'DejaVu Sans', sans-serif" font-size="6.6" fill="#3a3a3a" stroke="#3a3a3a" stroke-width="0.13" text-anchor="middle" textLength="10.34" lengthAdjust="spacingAndGlyphs">250</text>
<text x="278.9" y="521.75" font-family="'Liberation Serif', 'DejaVu Serif', serif" font-size="6.3" fill="#3a3a3a" stroke="#3a3a3a" stroke-width="0.13" text-anchor="end">3</text>
<text x="278.9" y="492.67" font-family="'Liberation Serif', 'DejaVu Serif', serif" font-size="6.3" fill="#3a3a3a" stroke="#3a3a3a" stroke-width="0.13" text-anchor="end">6</text>
<text x="278.9" y="463.58" font-family="'Liberation Serif', 'DejaVu Serif', serif" font-size="6.3" fill="#3a3a3a" stroke="#3a3a3a" stroke-width="0.13" text-anchor="end">9</text>
<text x="278.9" y="434.5" font-family="'Liberation Serif', 'DejaVu Serif', serif" font-size="6.3" fill="#3a3a3a" stroke="#3a3a3a" stroke-width="0.13" text-anchor="end">12</text>
<text x="63.88" y="14.3" font-family="'DejaVu Sans', 'Liberation Sans', sans-serif" font-size="9.6" fill="#111111" textLength="145.74" lengthAdjust="spacingAndGlyphs" stroke="#111" stroke-width="0.18">a) Solar power for Jul-15-2018</text>
<text x="301.19" y="14.2" font-family="'DejaVu Sans', 'Liberation Sans', sans-serif" font-size="9.6" fill="#111111" textLength="158.65" lengthAdjust="spacingAndGlyphs" stroke="#111" stroke-width="0.18">b) Solar power sampled at 5 min</text>
<text x="57.67" y="145.9" font-family="'DejaVu Sans', 'Liberation Sans', sans-serif" font-size="9.6" fill="#111111" textLength="157.54" lengthAdjust="spacingAndGlyphs" stroke="#111" stroke-width="0.18">c) Rate of change of solar power</text>
<text x="292.01" y="145.7" font-family="'DejaVu Sans', 'Liberation Sans', sans-serif" font-size="9.6" fill="#111111" textLength="177.73" lengthAdjust="spacingAndGlyphs" stroke="#111" stroke-width="0.18">d) Solar power injection into the grid</text>
<text x="63.93" y="282" font-family="'DejaVu Sans', 'Liberation Sans', sans-serif" font-size="9.6" fill="#111111" textLength="145.14" lengthAdjust="spacingAndGlyphs" stroke="#111" stroke-width="0.18">e) Wind power for Jul-15-2018</text>
<text x="293.51" y="281.7" font-family="'DejaVu Sans', 'Liberation Sans', sans-serif" font-size="9.6" fill="#111111" textLength="174.82" lengthAdjust="spacingAndGlyphs" stroke="#111" stroke-width="0.18">f) Wind power injection into the grid</text>
<text x="36.05" y="428.3" font-family="'DejaVu Sans', 'Liberation Sans', sans-serif" font-size="9.6" fill="#111111" textLength="201.54" lengthAdjust="spacingAndGlyphs" stroke="#111" stroke-width="0.18">g) Both solar and wind power Jul-15-2018</text>
<text x="309.5" y="417.2" font-family="'DejaVu Sans', 'Liberation Sans', sans-serif" font-size="9.6" fill="#111111" textLength="142" lengthAdjust="spacingAndGlyphs" stroke="#111" stroke-width="0.18">h) Both solar and wind power</text>
<text x="330.45" y="428.3" font-family="'DejaVu Sans', 'Liberation Sans', sans-serif" font-size="9.6" fill="#111111" textLength="103.91" lengthAdjust="spacingAndGlyphs" stroke="#111" stroke-width="0.18">injection into the grid</text>
<text transform="translate(19.8,86.42) rotate(-90)" x="0" y="0" font-family="'Liberation Serif', 'DejaVu Serif', serif" font-size="9.4" fill="#111111" textLength="48.52" lengthAdjust="spacingAndGlyphs" stroke="#111" stroke-width="0.22">Power (MW)</text>
<text transform="translate(266.5,92.14) rotate(-90)" x="0" y="0" font-family="'Liberation Serif', 'DejaVu Serif', serif" font-size="9.4" fill="#111111" textLength="48.53" lengthAdjust="spacingAndGlyphs" stroke="#111" stroke-width="0.22">Power (MW)</text>
<text transform="translate(11.1,232.7) rotate(-90)" x="0" y="0" font-family="'Liberation Serif', 'DejaVu Serif', serif" font-size="9.4" fill="#111111" textLength="75.24" lengthAdjust="spacingAndGlyphs" stroke="#111" stroke-width="0.22">Power rate (MW / s)</text>
<text transform="translate(19.6,358.56) rotate(-90)" x="0" y="0" font-family="'Liberation Serif', 'DejaVu Serif', serif" font-size="9.4" fill="#111111" textLength="48.55" lengthAdjust="spacingAndGlyphs" stroke="#111" stroke-width="0.22">Power (MW)</text>
<text transform="translate(19.3,498.96) rotate(-90)" x="0" y="0" font-family="'Liberation Serif', 'DejaVu Serif', serif" font-size="9.4" fill="#111111" textLength="48.68" lengthAdjust="spacingAndGlyphs" stroke="#111" stroke-width="0.22">Power (MW)</text>
<text transform="translate(268.8,241.06) rotate(-90)" x="0" y="0" font-family="'Liberation Serif', 'DejaVu Serif', serif" font-size="9.4" fill="#111111" textLength="90.12" lengthAdjust="spacingAndGlyphs" stroke="#111" stroke-width="0.22">Controller time, <tspan font-style="italic">Δt</tspan><tspan font-size="6.4" dy="1.8">m</tspan><tspan dy="-1.8"> (s)</tspan></text>
<text transform="translate(269,374.77) rotate(-90)" x="0" y="0" font-family="'Liberation Serif', 'DejaVu Serif', serif" font-size="9.4" fill="#111111" textLength="89.56" lengthAdjust="spacingAndGlyphs" stroke="#111" stroke-width="0.22">Controller time, <tspan font-style="italic">Δt</tspan><tspan font-size="6.4" dy="1.8">m</tspan><tspan dy="-1.8"> (s)</tspan></text>
<text transform="translate(268,522.85) rotate(-90)" x="0" y="0" font-family="'Liberation Serif', 'DejaVu Serif', serif" font-size="9.4" fill="#111111" textLength="89.93" lengthAdjust="spacingAndGlyphs" stroke="#111" stroke-width="0.22">Controller time, <tspan font-style="italic">Δt</tspan><tspan font-size="6.4" dy="1.8">m</tspan><tspan dy="-1.8"> (s)</tspan></text>
<text x="107.68" y="125.3" font-family="'Liberation Serif', 'DejaVu Serif', serif" font-size="11.2" fill="#111111" textLength="33.87" lengthAdjust="spacingAndGlyphs" stroke="#111" stroke-width="0.22"><tspan font-style="italic">time</tspan> (h)</text>
<text x="107.26" y="257.9" font-family="'Liberation Serif', 'DejaVu Serif', serif" font-size="11.2" fill="#111111" textLength="33.93" lengthAdjust="spacingAndGlyphs" stroke="#111" stroke-width="0.22"><tspan font-style="italic">time</tspan> (h)</text>
<text x="104.82" y="393.6" font-family="'Liberation Serif', 'DejaVu Serif', serif" font-size="11.2" fill="#111111" textLength="32.86" lengthAdjust="spacingAndGlyphs" stroke="#111" stroke-width="0.22"><tspan font-style="italic">time</tspan> (h)</text>
<text x="107.19" y="541.9" font-family="'Liberation Serif', 'DejaVu Serif', serif" font-size="11.2" fill="#111111" textLength="33.93" lengthAdjust="spacingAndGlyphs" stroke="#111" stroke-width="0.22"><tspan font-style="italic">time</tspan> (h)</text>
<rect x="336.5" y="111.7" width="79" height="16" fill="#ffffff"/>
<text x="337.57" y="122.8" font-family="'Liberation Serif', 'DejaVu Serif', serif" font-size="11.8" fill="#111111" textLength="76.1" lengthAdjust="spacingAndGlyphs" stroke="#111" stroke-width="0.33">sampled (5 min)</text>
<text x="365.8" y="254.5" font-family="'Liberation Serif', 'DejaVu Serif', serif" font-size="7.6" fill="#3c3c3c" stroke="#3c3c3c" stroke-width="0.22" font-style="italic">∫</text>
<text x="368.9" y="257.6" font-family="'Liberation Serif', 'DejaVu Serif', serif" font-size="3.9" fill="#3c3c3c" stroke="#3c3c3c" stroke-width="0.22">0</text>
<text x="370.4" y="250.9" font-family="'Liberation Serif', 'DejaVu Serif', serif" font-size="3.9" fill="#3c3c3c" stroke="#3c3c3c" stroke-width="0.22">5</text>
<text x="374.8" y="251.4" font-family="'Liberation Serif', 'DejaVu Serif', serif" font-size="4.6" fill="#3c3c3c" stroke="#3c3c3c" stroke-width="0.22" textLength="9.1" lengthAdjust="spacingAndGlyphs">min</text>
<text x="386.2" y="255.6" font-family="'Liberation Serif', 'DejaVu Serif', serif" font-size="7.4" fill="#3c3c3c" stroke="#3c3c3c" stroke-width="0.22" font-style="italic">P</text>
<text x="390.4" y="256.1" font-family="'Liberation Serif', 'DejaVu Serif', serif" font-size="4.6" fill="#3c3c3c" stroke="#3c3c3c" stroke-width="0.22" font-style="italic" textLength="4.4" lengthAdjust="spacingAndGlyphs">pv</text>
<text x="395.9" y="255.5" font-family="'Liberation Serif', 'DejaVu Serif', serif" font-size="7.4" fill="#3c3c3c" stroke="#3c3c3c" stroke-width="0.22" font-style="italic" textLength="6.3" lengthAdjust="spacingAndGlyphs">dt</text>
<text x="366.1" y="390.8" font-family="'Liberation Serif', 'DejaVu Serif', serif" font-size="7.6" fill="#3c3c3c" stroke="#3c3c3c" stroke-width="0.22" font-style="italic">∫</text>
<text x="369.2" y="393.9" font-family="'Liberation Serif', 'DejaVu Serif', serif" font-size="3.9" fill="#3c3c3c" stroke="#3c3c3c" stroke-width="0.22">0</text>
<text x="370.7" y="387.2" font-family="'Liberation Serif', 'DejaVu Serif', serif" font-size="3.9" fill="#3c3c3c" stroke="#3c3c3c" stroke-width="0.22">5</text>
<text x="375.1" y="387.7" font-family="'Liberation Serif', 'DejaVu Serif', serif" font-size="4.6" fill="#3c3c3c" stroke="#3c3c3c" stroke-width="0.22" textLength="9.1" lengthAdjust="spacingAndGlyphs">min</text>
<text x="386.5" y="391.9" font-family="'Liberation Serif', 'DejaVu Serif', serif" font-size="7.4" fill="#3c3c3c" stroke="#3c3c3c" stroke-width="0.22" font-style="italic">P</text>
<text x="390.7" y="392.4" font-family="'Liberation Serif', 'DejaVu Serif', serif" font-size="4.6" fill="#3c3c3c" stroke="#3c3c3c" stroke-width="0.22" font-style="italic" textLength="4.4" lengthAdjust="spacingAndGlyphs">pv</text>
<text x="396.2" y="391.8" font-family="'Liberation Serif', 'DejaVu Serif', serif" font-size="7.4" fill="#3c3c3c" stroke="#3c3c3c" stroke-width="0.22" font-style="italic" textLength="6.3" lengthAdjust="spacingAndGlyphs">dt</text>
<text x="342" y="535.9" font-family="'Liberation Serif', 'DejaVu Serif', serif" font-size="6.2" fill="#3c3c3c" stroke="#3c3c3c" stroke-width="0.22" font-style="italic">∫</text>
<text x="345" y="541" font-family="'Liberation Serif', 'DejaVu Serif', serif" font-size="3.6" fill="#3c3c3c" stroke="#3c3c3c" stroke-width="0.22">0</text>
<text x="347" y="533" font-family="'Liberation Serif', 'DejaVu Serif', serif" font-size="3.4" fill="#3c3c3c" stroke="#3c3c3c" stroke-width="0.22">5</text>
<text x="352.8" y="533" font-family="'Liberation Serif', 'DejaVu Serif', serif" font-size="3.8" fill="#3c3c3c" stroke="#3c3c3c" stroke-width="0.22" textLength="2.9" lengthAdjust="spacingAndGlyphs">m</text>
<text x="357.7" y="533" font-family="'Liberation Serif', 'DejaVu Serif', serif" font-size="3.8" fill="#3c3c3c" stroke="#3c3c3c" stroke-width="0.22" textLength="4.9" lengthAdjust="spacingAndGlyphs">in</text>
<text x="364.6" y="537.8" font-family="'Liberation Serif', 'DejaVu Serif', serif" font-size="6.2" fill="#3c3c3c" stroke="#3c3c3c" stroke-width="0.22">(</text>
<text x="368.3" y="537.5" font-family="'Liberation Serif', 'DejaVu Serif', serif" font-size="6.2" fill="#3c3c3c" stroke="#3c3c3c" stroke-width="0.22" font-style="italic">P</text>
<text x="373.3" y="538.7" font-family="'Liberation Serif', 'DejaVu Serif', serif" font-size="3.8" fill="#3c3c3c" stroke="#3c3c3c" stroke-width="0.22" font-style="italic">p</text>
<text x="377.6" y="538.7" font-family="'Liberation Serif', 'DejaVu Serif', serif" font-size="3.8" fill="#3c3c3c" stroke="#3c3c3c" stroke-width="0.22" font-style="italic">v</text>
<text x="384.4" y="537.5" font-family="'Liberation Serif', 'DejaVu Serif', serif" font-size="6.2" fill="#3c3c3c" stroke="#3c3c3c" stroke-width="0.22">+</text>
<text x="392.7" y="537.5" font-family="'Liberation Serif', 'DejaVu Serif', serif" font-size="6.2" fill="#3c3c3c" stroke="#3c3c3c" stroke-width="0.22" font-style="italic">P</text>
<text x="397.8" y="538.7" font-family="'Liberation Serif', 'DejaVu Serif', serif" font-size="3.8" fill="#3c3c3c" stroke="#3c3c3c" stroke-width="0.22" font-style="italic">w</text>
<text x="403.4" y="537.8" font-family="'Liberation Serif', 'DejaVu Serif', serif" font-size="6.2" fill="#3c3c3c" stroke="#3c3c3c" stroke-width="0.22">)</text>
<text x="406.7" y="537.5" font-family="'Liberation Serif', 'DejaVu Serif', serif" font-size="6.2" fill="#3c3c3c" stroke="#3c3c3c" stroke-width="0.22" font-style="italic">d</text>
<text x="411.3" y="537.5" font-family="'Liberation Serif', 'DejaVu Serif', serif" font-size="6.2" fill="#3c3c3c" stroke="#3c3c3c" stroke-width="0.22" font-style="italic">t</text>
<rect x="200.5" y="21.5" width="33.2" height="15.2" fill="#ffffff" stroke="#333" stroke-width="0.9"/>
<line x1="205.4" y1="28.4" x2="216.1" y2="28.4" stroke="#5b5bc2" stroke-width="1.15" stroke-opacity="0.55"/>
<text x="220.6" y="30.5" font-family="'DejaVu Sans', 'Liberation Sans', sans-serif" font-size="6.1" fill="#1a1a1a" stroke="#1a1a1a" stroke-width="0.16" font-style="italic">P<tspan font-size="3.54" dy="1.3">pv</tspan></text>
<rect x="444.8" y="21.8" width="32.8" height="14.8" fill="#ffffff" stroke="#333" stroke-width="0.9"/>
<line x1="449.2" y1="28.3" x2="460.3" y2="28.3" stroke="#5b5bc2" stroke-width="1.15" stroke-opacity="0.55"/>
<text x="464.7" y="30.4" font-family="'DejaVu Sans', 'Liberation Sans', sans-serif" font-size="6.1" fill="#1a1a1a" stroke="#1a1a1a" stroke-width="0.16" font-style="italic">P<tspan font-size="3.54" dy="1.3">pv</tspan></text>
<rect x="199.7" y="152.8" width="34.1" height="17.7" fill="#ffffff" stroke="#333" stroke-width="0.9"/>
<line x1="204.3" y1="161.6" x2="215.7" y2="161.6" stroke="#5b5bc2" stroke-width="1.15" stroke-opacity="0.55"/>
<text x="224" y="159.6" font-family="'DejaVu Sans', 'Liberation Sans', sans-serif" font-size="5" fill="#222" font-style="italic" text-anchor="middle">∂P<tspan font-size="3" dy="1">pv</tspan></text><line x1="219.5" y1="161.6" x2="228.5" y2="161.6" stroke="#333" stroke-width="0.5"/><text x="224" y="166.2" font-family="'DejaVu Sans', 'Liberation Sans', sans-serif" font-size="5" fill="#222" font-style="italic" text-anchor="middle">∂t</text>
<rect x="202.2" y="289.2" width="31.4" height="14.1" fill="#ffffff" stroke="#333" stroke-width="0.9"/>
<line x1="206.9" y1="295.9" x2="217.7" y2="295.9" stroke="#178a3c" stroke-width="1.15" stroke-opacity="0.55"/>
<text x="222" y="298" font-family="'DejaVu Sans', 'Liberation Sans', sans-serif" font-size="6.1" fill="#1a1a1a" stroke="#1a1a1a" stroke-width="0.16" font-style="italic">P<tspan font-size="3.54" dy="1.3">w</tspan></text>
<rect x="187.2" y="435.2" width="46.7" height="14.8" fill="#ffffff" stroke="#333" stroke-width="0.9"/>
<line x1="191.8" y1="442.1" x2="202.6" y2="442.1" stroke="#f21515" stroke-width="1.15" stroke-opacity="0.55"/>
<text x="207" y="444.3" font-family="'DejaVu Sans', 'Liberation Sans', sans-serif" font-size="6" fill="#222" font-style="italic">P<tspan font-size="3.7" dy="1.4">pv</tspan><tspan dy="-1.4"> + P</tspan><tspan font-size="3.7" dy="1.4">w</tspan></text>
<rect x="431.4" y="152.8" width="46.1" height="46.8" fill="#ffffff" stroke="#333" stroke-width="0.9"/>
<line x1="436.1" y1="159.4" x2="447.1" y2="159.4" stroke="#e2525b" stroke-width="1.1" stroke-opacity="0.85"/>
<text x="451.4" y="161.7" font-family="'DejaVu Sans', 'Liberation Sans', sans-serif" font-size="6.3" fill="#222" stroke="#222" stroke-width="0.12" textLength="21.6" lengthAdjust="spacingAndGlyphs"><tspan font-style="italic">u</tspan><tspan font-size="3.6" dy="1.2">v</tspan><tspan dy="-1.2"> = 0.2</tspan></text>
<line x1="436.1" y1="167.65" x2="447.1" y2="167.65" stroke="#40bde3" stroke-width="1.1" stroke-opacity="0.85"/>
<text x="451.4" y="169.95" font-family="'DejaVu Sans', 'Liberation Sans', sans-serif" font-size="6.3" fill="#222" stroke="#222" stroke-width="0.12" textLength="21.6" lengthAdjust="spacingAndGlyphs"><tspan font-style="italic">u</tspan><tspan font-size="3.6" dy="1.2">v</tspan><tspan dy="-1.2"> = 0.4</tspan></text>
<line x1="436.1" y1="175.9" x2="447.1" y2="175.9" stroke="#5fc6bd" stroke-width="1.1" stroke-opacity="0.85"/>
<text x="451.4" y="178.2" font-family="'DejaVu Sans', 'Liberation Sans', sans-serif" font-size="6.3" fill="#222" stroke="#222" stroke-width="0.12" textLength="21.6" lengthAdjust="spacingAndGlyphs"><tspan font-style="italic">u</tspan><tspan font-size="3.6" dy="1.2">v</tspan><tspan dy="-1.2"> = 0.6</tspan></text>
<line x1="436.1" y1="184.15" x2="447.1" y2="184.15" stroke="#6a6ac6" stroke-width="1.1" stroke-opacity="0.85"/>
<text x="451.4" y="186.45" font-family="'DejaVu Sans', 'Liberation Sans', sans-serif" font-size="6.3" fill="#222" stroke="#222" stroke-width="0.12" textLength="21.6" lengthAdjust="spacingAndGlyphs"><tspan font-style="italic">u</tspan><tspan font-size="3.6" dy="1.2">v</tspan><tspan dy="-1.2"> = 0.8</tspan></text>
<line x1="436.1" y1="192.4" x2="447.1" y2="192.4" stroke="#f5cf48" stroke-width="1.1" stroke-opacity="0.85"/>
<text x="451.4" y="194.7" font-family="'DejaVu Sans', 'Liberation Sans', sans-serif" font-size="6.3" fill="#222" stroke="#222" stroke-width="0.12" textLength="21.6" lengthAdjust="spacingAndGlyphs"><tspan font-style="italic">u</tspan><tspan font-size="3.6" dy="1.2">v</tspan><tspan dy="-1.2"> = 1.0</tspan></text>
<rect x="431.3" y="289" width="46.2" height="46.8" fill="#ffffff" stroke="#333" stroke-width="0.9"/>
<line x1="436" y1="295.6" x2="447" y2="295.6" stroke="#e2525b" stroke-width="1.1" stroke-opacity="0.85"/>
<text x="451.3" y="297.9" font-family="'DejaVu Sans', 'Liberation Sans', sans-serif" font-size="6.3" fill="#222" stroke="#222" stroke-width="0.12" textLength="21.6" lengthAdjust="spacingAndGlyphs"><tspan font-style="italic">u</tspan><tspan font-size="3.6" dy="1.2">v</tspan><tspan dy="-1.2"> = 0.2</tspan></text>
<line x1="436" y1="303.85" x2="447" y2="303.85" stroke="#40bde3" stroke-width="1.1" stroke-opacity="0.85"/>
<text x="451.3" y="306.15" font-family="'DejaVu Sans', 'Liberation Sans', sans-serif" font-size="6.3" fill="#222" stroke="#222" stroke-width="0.12" textLength="21.6" lengthAdjust="spacingAndGlyphs"><tspan font-style="italic">u</tspan><tspan font-size="3.6" dy="1.2">v</tspan><tspan dy="-1.2"> = 0.4</tspan></text>
<line x1="436" y1="312.1" x2="447" y2="312.1" stroke="#5fc6bd" stroke-width="1.1" stroke-opacity="0.85"/>
<text x="451.3" y="314.4" font-family="'DejaVu Sans', 'Liberation Sans', sans-serif" font-size="6.3" fill="#222" stroke="#222" stroke-width="0.12" textLength="21.6" lengthAdjust="spacingAndGlyphs"><tspan font-style="italic">u</tspan><tspan font-size="3.6" dy="1.2">v</tspan><tspan dy="-1.2"> = 0.6</tspan></text>
<line x1="436" y1="320.35" x2="447" y2="320.35" stroke="#6a6ac6" stroke-width="1.1" stroke-opacity="0.85"/>
<text x="451.3" y="322.65" font-family="'DejaVu Sans', 'Liberation Sans', sans-serif" font-size="6.3" fill="#222" stroke="#222" stroke-width="0.12" textLength="21.6" lengthAdjust="spacingAndGlyphs"><tspan font-style="italic">u</tspan><tspan font-size="3.6" dy="1.2">v</tspan><tspan dy="-1.2"> = 0.8</tspan></text>
<line x1="436" y1="328.6" x2="447" y2="328.6" stroke="#f5cf48" stroke-width="1.1" stroke-opacity="0.85"/>
<text x="451.3" y="330.9" font-family="'DejaVu Sans', 'Liberation Sans', sans-serif" font-size="6.3" fill="#222" stroke="#222" stroke-width="0.12" textLength="21.6" lengthAdjust="spacingAndGlyphs"><tspan font-style="italic">u</tspan><tspan font-size="3.6" dy="1.2">v</tspan><tspan dy="-1.2"> = 1.0</tspan></text>
<rect x="431.3" y="435.2" width="46.2" height="46.8" fill="#ffffff" stroke="#333" stroke-width="0.9"/>
<line x1="436" y1="441.8" x2="447" y2="441.8" stroke="#e2525b" stroke-width="1.1" stroke-opacity="0.85"/>
<text x="451.3" y="444.1" font-family="'DejaVu Sans', 'Liberation Sans', sans-serif" font-size="6.3" fill="#222" stroke="#222" stroke-width="0.12" textLength="21.6" lengthAdjust="spacingAndGlyphs"><tspan font-style="italic">u</tspan><tspan font-size="3.6" dy="1.2">v</tspan><tspan dy="-1.2"> = 0.2</tspan></text>
<line x1="436" y1="450.05" x2="447" y2="450.05" stroke="#40bde3" stroke-width="1.1" stroke-opacity="0.85"/>
<text x="451.3" y="452.35" font-family="'DejaVu Sans', 'Liberation Sans', sans-serif" font-size="6.3" fill="#222" stroke="#222" stroke-width="0.12" textLength="21.6" lengthAdjust="spacingAndGlyphs"><tspan font-style="italic">u</tspan><tspan font-size="3.6" dy="1.2">v</tspan><tspan dy="-1.2"> = 0.4</tspan></text>
<line x1="436" y1="458.3" x2="447" y2="458.3" stroke="#5fc6bd" stroke-width="1.1" stroke-opacity="0.85"/>
<text x="451.3" y="460.6" font-family="'DejaVu Sans', 'Liberation Sans', sans-serif" font-size="6.3" fill="#222" stroke="#222" stroke-width="0.12" textLength="21.6" lengthAdjust="spacingAndGlyphs"><tspan font-style="italic">u</tspan><tspan font-size="3.6" dy="1.2">v</tspan><tspan dy="-1.2"> = 0.6</tspan></text>
<line x1="436" y1="466.55" x2="447" y2="466.55" stroke="#6a6ac6" stroke-width="1.1" stroke-opacity="0.85"/>
<text x="451.3" y="468.85" font-family="'DejaVu Sans', 'Liberation Sans', sans-serif" font-size="6.3" fill="#222" stroke="#222" stroke-width="0.12" textLength="21.6" lengthAdjust="spacingAndGlyphs"><tspan font-style="italic">u</tspan><tspan font-size="3.6" dy="1.2">v</tspan><tspan dy="-1.2"> = 0.8</tspan></text>
<line x1="436" y1="474.8" x2="447" y2="474.8" stroke="#f5cf48" stroke-width="1.1" stroke-opacity="0.85"/>
<text x="451.3" y="477.1" font-family="'DejaVu Sans', 'Liberation Sans', sans-serif" font-size="6.3" fill="#222" stroke="#222" stroke-width="0.12" textLength="21.6" lengthAdjust="spacingAndGlyphs"><tspan font-style="italic">u</tspan><tspan font-size="3.6" dy="1.2">v</tspan><tspan dy="-1.2"> = 1.0</tspan></text>
</svg>
</body></html>
